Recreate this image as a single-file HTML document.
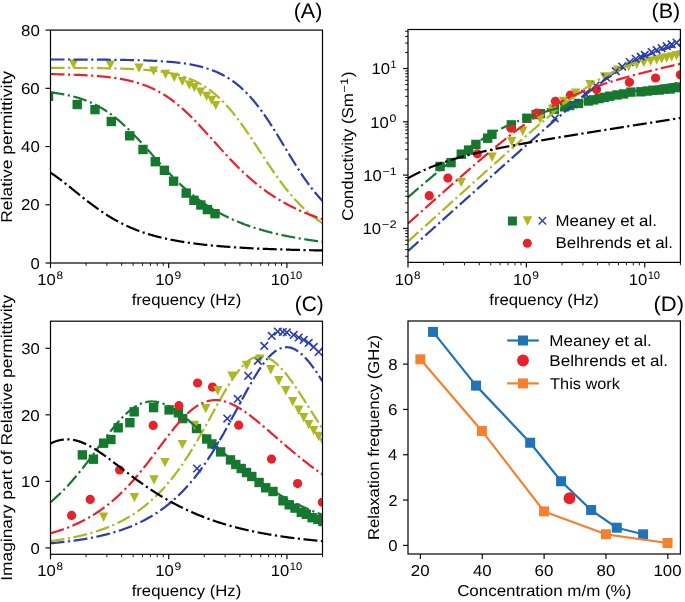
<!DOCTYPE html>
<html><head><meta charset="utf-8"><style>
html,body{margin:0;padding:0;background:#fff;}
svg{display:block;will-change:transform;}
text{font-family:"Liberation Sans",sans-serif;text-rendering:geometricPrecision;}
</style></head><body>
<svg width="685" height="602" viewBox="0 0 685 602">
<rect width="685" height="602" fill="#fff"/>
<clipPath id="clipA"><rect x="50.5" y="30.1" width="272.0" height="232.9"/></clipPath>
<clipPath id="clipB"><rect x="408.0" y="29.5" width="272.4" height="232.89999999999998"/></clipPath>
<clipPath id="clipC"><rect x="50.5" y="321.2" width="272.0" height="233.09999999999997"/></clipPath>
<clipPath id="clipD"><rect x="408.0" y="321.0" width="272.4" height="233.0"/></clipPath>
<g clip-path="url(#clipA)">
<rect x="43.80" y="91.60" width="9.4" height="9.4" fill="#16782f"/>
<rect x="72.50" y="99.80" width="9.4" height="9.4" fill="#16782f"/>
<rect x="90.30" y="104.90" width="9.4" height="9.4" fill="#16782f"/>
<rect x="106.60" y="116.80" width="9.4" height="9.4" fill="#16782f"/>
<rect x="125.00" y="131.10" width="9.4" height="9.4" fill="#16782f"/>
<rect x="138.30" y="144.80" width="9.4" height="9.4" fill="#16782f"/>
<rect x="150.60" y="157.00" width="9.4" height="9.4" fill="#16782f"/>
<rect x="159.70" y="165.60" width="9.4" height="9.4" fill="#16782f"/>
<rect x="168.90" y="176.50" width="9.4" height="9.4" fill="#16782f"/>
<rect x="181.50" y="188.40" width="9.4" height="9.4" fill="#16782f"/>
<rect x="189.20" y="195.60" width="9.4" height="9.4" fill="#16782f"/>
<rect x="196.20" y="200.30" width="9.4" height="9.4" fill="#16782f"/>
<rect x="202.70" y="204.90" width="9.4" height="9.4" fill="#16782f"/>
<rect x="210.30" y="209.00" width="9.4" height="9.4" fill="#16782f"/>
<path d="M68.90,59.50 L78.10,59.50 L73.50,68.70 Z" fill="#acb722"/>
<path d="M105.70,60.50 L114.90,60.50 L110.30,69.70 Z" fill="#acb722"/>
<path d="M134.40,63.50 L143.60,63.50 L139.00,72.70 Z" fill="#acb722"/>
<path d="M149.00,66.40 L158.20,66.40 L153.60,75.60 Z" fill="#acb722"/>
<path d="M161.00,69.70 L170.20,69.70 L165.60,78.90 Z" fill="#acb722"/>
<path d="M169.70,72.70 L178.90,72.70 L174.30,81.90 Z" fill="#acb722"/>
<path d="M177.80,76.90 L187.00,76.90 L182.40,86.10 Z" fill="#acb722"/>
<path d="M184.70,80.40 L193.90,80.40 L189.30,89.60 Z" fill="#acb722"/>
<path d="M189.80,83.10 L199.00,83.10 L194.40,92.30 Z" fill="#acb722"/>
<path d="M195.90,87.60 L205.10,87.60 L200.50,96.80 Z" fill="#acb722"/>
<path d="M202.00,91.70 L211.20,91.70 L206.60,100.90 Z" fill="#acb722"/>
<path d="M207.10,95.70 L216.30,95.70 L211.70,104.90 Z" fill="#acb722"/>
<path d="M211.20,100.90 L220.40,100.90 L215.80,110.10 Z" fill="#acb722"/>
<path d="M50.50,59.47 L51.18,59.48 L51.86,59.48 L52.55,59.48 L53.23,59.48 L53.91,59.48 L54.59,59.48 L55.27,59.48 L55.95,59.48 L56.64,59.48 L57.32,59.49 L58.00,59.49 L58.68,59.49 L59.36,59.49 L60.04,59.49 L60.73,59.49 L61.41,59.49 L62.09,59.50 L62.77,59.50 L63.45,59.50 L64.13,59.50 L64.82,59.50 L65.50,59.50 L66.18,59.50 L66.86,59.51 L67.54,59.51 L68.22,59.51 L68.91,59.51 L69.59,59.51 L70.27,59.52 L70.95,59.52 L71.63,59.52 L72.31,59.52 L73.00,59.52 L73.68,59.53 L74.36,59.53 L75.04,59.53 L75.72,59.53 L76.40,59.53 L77.09,59.54 L77.77,59.54 L78.45,59.54 L79.13,59.54 L79.81,59.55 L80.49,59.55 L81.18,59.55 L81.86,59.55 L82.54,59.56 L83.22,59.56 L83.90,59.56 L84.59,59.57 L85.27,59.57 L85.95,59.57 L86.63,59.58 L87.31,59.58 L87.99,59.58 L88.68,59.59 L89.36,59.59 L90.04,59.59 L90.72,59.60 L91.40,59.60 L92.08,59.60 L92.77,59.61 L93.45,59.61 L94.13,59.62 L94.81,59.62 L95.49,59.62 L96.17,59.63 L96.86,59.63 L97.54,59.64 L98.22,59.64 L98.90,59.65 L99.58,59.65 L100.26,59.66 L100.95,59.66 L101.63,59.67 L102.31,59.67 L102.99,59.68 L103.67,59.68 L104.35,59.69 L105.04,59.69 L105.72,59.70 L106.40,59.71 L107.08,59.71 L107.76,59.72 L108.44,59.73 L109.13,59.73 L109.81,59.74 L110.49,59.75 L111.17,59.75 L111.85,59.76 L112.54,59.77 L113.22,59.78 L113.90,59.78 L114.58,59.79 L115.26,59.80 L115.94,59.81 L116.63,59.82 L117.31,59.83 L117.99,59.84 L118.67,59.84 L119.35,59.85 L120.03,59.86 L120.72,59.87 L121.40,59.88 L122.08,59.89 L122.76,59.91 L123.44,59.92 L124.12,59.93 L124.81,59.94 L125.49,59.95 L126.17,59.96 L126.85,59.98 L127.53,59.99 L128.21,60.00 L128.90,60.01 L129.58,60.03 L130.26,60.04 L130.94,60.06 L131.62,60.07 L132.30,60.09 L132.99,60.10 L133.67,60.12 L134.35,60.13 L135.03,60.15 L135.71,60.17 L136.39,60.18 L137.08,60.20 L137.76,60.22 L138.44,60.24 L139.12,60.26 L139.80,60.28 L140.48,60.30 L141.17,60.32 L141.85,60.34 L142.53,60.36 L143.21,60.38 L143.89,60.41 L144.58,60.43 L145.26,60.45 L145.94,60.48 L146.62,60.50 L147.30,60.53 L147.98,60.55 L148.67,60.58 L149.35,60.61 L150.03,60.64 L150.71,60.66 L151.39,60.69 L152.07,60.72 L152.76,60.76 L153.44,60.79 L154.12,60.82 L154.80,60.85 L155.48,60.89 L156.16,60.92 L156.85,60.96 L157.53,61.00 L158.21,61.03 L158.89,61.07 L159.57,61.11 L160.25,61.15 L160.94,61.19 L161.62,61.24 L162.30,61.28 L162.98,61.33 L163.66,61.37 L164.34,61.42 L165.03,61.47 L165.71,61.52 L166.39,61.57 L167.07,61.62 L167.75,61.67 L168.43,61.73 L169.12,61.78 L169.80,61.84 L170.48,61.90 L171.16,61.96 L171.84,62.02 L172.53,62.08 L173.21,62.15 L173.89,62.21 L174.57,62.28 L175.25,62.35 L175.93,62.42 L176.62,62.50 L177.30,62.57 L177.98,62.65 L178.66,62.73 L179.34,62.81 L180.02,62.89 L180.71,62.97 L181.39,63.06 L182.07,63.15 L182.75,63.24 L183.43,63.33 L184.11,63.43 L184.80,63.53 L185.48,63.63 L186.16,63.73 L186.84,63.84 L187.52,63.94 L188.20,64.05 L188.89,64.17 L189.57,64.28 L190.25,64.40 L190.93,64.52 L191.61,64.65 L192.29,64.78 L192.98,64.91 L193.66,65.04 L194.34,65.18 L195.02,65.32 L195.70,65.46 L196.38,65.61 L197.07,65.76 L197.75,65.92 L198.43,66.07 L199.11,66.24 L199.79,66.40 L200.47,66.57 L201.16,66.74 L201.84,66.92 L202.52,67.10 L203.20,67.29 L203.88,67.48 L204.57,67.68 L205.25,67.88 L205.93,68.08 L206.61,68.29 L207.29,68.51 L207.97,68.72 L208.66,68.95 L209.34,69.18 L210.02,69.41 L210.70,69.65 L211.38,69.90 L212.06,70.15 L212.75,70.41 L213.43,70.67 L214.11,70.94 L214.79,71.22 L215.47,71.50 L216.15,71.78 L216.84,72.08 L217.52,72.38 L218.20,72.69 L218.88,73.00 L219.56,73.32 L220.24,73.65 L220.93,73.98 L221.61,74.33 L222.29,74.68 L222.97,75.03 L223.65,75.40 L224.33,75.77 L225.02,76.15 L225.70,76.54 L226.38,76.94 L227.06,77.34 L227.74,77.76 L228.42,78.18 L229.11,78.61 L229.79,79.05 L230.47,79.50 L231.15,79.96 L231.83,80.42 L232.52,80.90 L233.20,81.38 L233.88,81.88 L234.56,82.38 L235.24,82.90 L235.92,83.42 L236.61,83.96 L237.29,84.50 L237.97,85.05 L238.65,85.62 L239.33,86.19 L240.01,86.78 L240.70,87.38 L241.38,87.98 L242.06,88.60 L242.74,89.23 L243.42,89.87 L244.10,90.51 L244.79,91.18 L245.47,91.85 L246.15,92.53 L246.83,93.22 L247.51,93.93 L248.19,94.64 L248.88,95.37 L249.56,96.11 L250.24,96.86 L250.92,97.62 L251.60,98.39 L252.28,99.18 L252.97,99.97 L253.65,100.78 L254.33,101.59 L255.01,102.42 L255.69,103.26 L256.37,104.11 L257.06,104.97 L257.74,105.84 L258.42,106.73 L259.10,107.62 L259.78,108.52 L260.46,109.44 L261.15,110.36 L261.83,111.30 L262.51,112.24 L263.19,113.20 L263.87,114.16 L264.56,115.13 L265.24,116.12 L265.92,117.11 L266.60,118.11 L267.28,119.12 L267.96,120.14 L268.65,121.16 L269.33,122.20 L270.01,123.24 L270.69,124.29 L271.37,125.34 L272.05,126.41 L272.74,127.47 L273.42,128.55 L274.10,129.63 L274.78,130.72 L275.46,131.81 L276.14,132.91 L276.83,134.01 L277.51,135.12 L278.19,136.23 L278.87,137.35 L279.55,138.46 L280.23,139.58 L280.92,140.71 L281.60,141.83 L282.28,142.96 L282.96,144.09 L283.64,145.22 L284.32,146.35 L285.01,147.48 L285.69,148.61 L286.37,149.74 L287.05,150.87 L287.73,152.00 L288.41,153.13 L289.10,154.25 L289.78,155.37 L290.46,156.49 L291.14,157.61 L291.82,158.72 L292.51,159.83 L293.19,160.94 L293.87,162.04 L294.55,163.13 L295.23,164.22 L295.91,165.31 L296.60,166.39 L297.28,167.46 L297.96,168.53 L298.64,169.59 L299.32,170.64 L300.00,171.69 L300.69,172.73 L301.37,173.76 L302.05,174.78 L302.73,175.80 L303.41,176.80 L304.09,177.80 L304.78,178.79 L305.46,179.77 L306.14,180.74 L306.82,181.70 L307.50,182.65 L308.18,183.59 L308.87,184.52 L309.55,185.44 L310.23,186.35 L310.91,187.25 L311.59,188.14 L312.27,189.02 L312.96,189.89 L313.64,190.74 L314.32,191.59 L315.00,192.43 L315.68,193.25 L316.36,194.06 L317.05,194.86 L317.73,195.65 L318.41,196.43 L319.09,197.20 L319.77,197.96 L320.45,198.70 L321.14,199.44 L321.82,200.16 L322.50,200.87" stroke="#2a3ea8" stroke-width="2.2" fill="none" stroke-dasharray="14.0 3.5 2.2 3.5"/>
<path d="M50.50,67.88 L51.18,67.88 L51.86,67.88 L52.55,67.88 L53.23,67.88 L53.91,67.88 L54.59,67.88 L55.27,67.89 L55.95,67.89 L56.64,67.89 L57.32,67.89 L58.00,67.89 L58.68,67.90 L59.36,67.90 L60.04,67.90 L60.73,67.90 L61.41,67.90 L62.09,67.91 L62.77,67.91 L63.45,67.91 L64.13,67.91 L64.82,67.92 L65.50,67.92 L66.18,67.92 L66.86,67.92 L67.54,67.93 L68.22,67.93 L68.91,67.93 L69.59,67.93 L70.27,67.94 L70.95,67.94 L71.63,67.94 L72.31,67.95 L73.00,67.95 L73.68,67.95 L74.36,67.96 L75.04,67.96 L75.72,67.96 L76.40,67.97 L77.09,67.97 L77.77,67.98 L78.45,67.98 L79.13,67.98 L79.81,67.99 L80.49,67.99 L81.18,68.00 L81.86,68.00 L82.54,68.01 L83.22,68.01 L83.90,68.02 L84.59,68.02 L85.27,68.03 L85.95,68.03 L86.63,68.04 L87.31,68.04 L87.99,68.05 L88.68,68.06 L89.36,68.06 L90.04,68.07 L90.72,68.08 L91.40,68.08 L92.08,68.09 L92.77,68.10 L93.45,68.10 L94.13,68.11 L94.81,68.12 L95.49,68.13 L96.17,68.13 L96.86,68.14 L97.54,68.15 L98.22,68.16 L98.90,68.17 L99.58,68.18 L100.26,68.19 L100.95,68.20 L101.63,68.21 L102.31,68.22 L102.99,68.23 L103.67,68.24 L104.35,68.25 L105.04,68.26 L105.72,68.27 L106.40,68.29 L107.08,68.30 L107.76,68.31 L108.44,68.33 L109.13,68.34 L109.81,68.35 L110.49,68.37 L111.17,68.38 L111.85,68.40 L112.54,68.41 L113.22,68.43 L113.90,68.44 L114.58,68.46 L115.26,68.48 L115.94,68.49 L116.63,68.51 L117.31,68.53 L117.99,68.55 L118.67,68.57 L119.35,68.59 L120.03,68.61 L120.72,68.63 L121.40,68.65 L122.08,68.67 L122.76,68.70 L123.44,68.72 L124.12,68.74 L124.81,68.77 L125.49,68.79 L126.17,68.82 L126.85,68.85 L127.53,68.87 L128.21,68.90 L128.90,68.93 L129.58,68.96 L130.26,68.99 L130.94,69.02 L131.62,69.06 L132.30,69.09 L132.99,69.12 L133.67,69.16 L134.35,69.19 L135.03,69.23 L135.71,69.27 L136.39,69.30 L137.08,69.34 L137.76,69.38 L138.44,69.43 L139.12,69.47 L139.80,69.51 L140.48,69.56 L141.17,69.60 L141.85,69.65 L142.53,69.70 L143.21,69.75 L143.89,69.80 L144.58,69.85 L145.26,69.91 L145.94,69.96 L146.62,70.02 L147.30,70.08 L147.98,70.14 L148.67,70.20 L149.35,70.26 L150.03,70.32 L150.71,70.39 L151.39,70.46 L152.07,70.53 L152.76,70.60 L153.44,70.67 L154.12,70.75 L154.80,70.83 L155.48,70.90 L156.16,70.99 L156.85,71.07 L157.53,71.15 L158.21,71.24 L158.89,71.33 L159.57,71.42 L160.25,71.52 L160.94,71.61 L161.62,71.71 L162.30,71.82 L162.98,71.92 L163.66,72.03 L164.34,72.14 L165.03,72.25 L165.71,72.37 L166.39,72.48 L167.07,72.61 L167.75,72.73 L168.43,72.86 L169.12,72.99 L169.80,73.12 L170.48,73.26 L171.16,73.40 L171.84,73.54 L172.53,73.69 L173.21,73.84 L173.89,74.00 L174.57,74.16 L175.25,74.32 L175.93,74.49 L176.62,74.66 L177.30,74.83 L177.98,75.01 L178.66,75.20 L179.34,75.39 L180.02,75.58 L180.71,75.78 L181.39,75.98 L182.07,76.18 L182.75,76.40 L183.43,76.61 L184.11,76.84 L184.80,77.06 L185.48,77.30 L186.16,77.53 L186.84,77.78 L187.52,78.03 L188.20,78.28 L188.89,78.54 L189.57,78.81 L190.25,79.08 L190.93,79.36 L191.61,79.65 L192.29,79.94 L192.98,80.24 L193.66,80.54 L194.34,80.86 L195.02,81.18 L195.70,81.50 L196.38,81.84 L197.07,82.18 L197.75,82.52 L198.43,82.88 L199.11,83.24 L199.79,83.61 L200.47,83.99 L201.16,84.38 L201.84,84.77 L202.52,85.18 L203.20,85.59 L203.88,86.01 L204.57,86.43 L205.25,86.87 L205.93,87.32 L206.61,87.77 L207.29,88.23 L207.97,88.71 L208.66,89.19 L209.34,89.68 L210.02,90.18 L210.70,90.69 L211.38,91.21 L212.06,91.73 L212.75,92.27 L213.43,92.82 L214.11,93.38 L214.79,93.94 L215.47,94.52 L216.15,95.11 L216.84,95.71 L217.52,96.31 L218.20,96.93 L218.88,97.56 L219.56,98.20 L220.24,98.85 L220.93,99.51 L221.61,100.17 L222.29,100.85 L222.97,101.54 L223.65,102.24 L224.33,102.95 L225.02,103.67 L225.70,104.40 L226.38,105.14 L227.06,105.90 L227.74,106.66 L228.42,107.43 L229.11,108.21 L229.79,109.00 L230.47,109.80 L231.15,110.61 L231.83,111.43 L232.52,112.26 L233.20,113.10 L233.88,113.95 L234.56,114.81 L235.24,115.68 L235.92,116.55 L236.61,117.44 L237.29,118.33 L237.97,119.23 L238.65,120.14 L239.33,121.06 L240.01,121.99 L240.70,122.92 L241.38,123.86 L242.06,124.81 L242.74,125.77 L243.42,126.73 L244.10,127.70 L244.79,128.67 L245.47,129.65 L246.15,130.64 L246.83,131.63 L247.51,132.63 L248.19,133.63 L248.88,134.64 L249.56,135.65 L250.24,136.67 L250.92,137.69 L251.60,138.71 L252.28,139.74 L252.97,140.77 L253.65,141.81 L254.33,142.84 L255.01,143.88 L255.69,144.92 L256.37,145.96 L257.06,147.00 L257.74,148.05 L258.42,149.09 L259.10,150.13 L259.78,151.18 L260.46,152.22 L261.15,153.27 L261.83,154.31 L262.51,155.35 L263.19,156.39 L263.87,157.43 L264.56,158.47 L265.24,159.50 L265.92,160.53 L266.60,161.56 L267.28,162.59 L267.96,163.61 L268.65,164.63 L269.33,165.65 L270.01,166.66 L270.69,167.66 L271.37,168.67 L272.05,169.67 L272.74,170.66 L273.42,171.65 L274.10,172.63 L274.78,173.61 L275.46,174.58 L276.14,175.54 L276.83,176.50 L277.51,177.45 L278.19,178.40 L278.87,179.34 L279.55,180.27 L280.23,181.20 L280.92,182.12 L281.60,183.03 L282.28,183.94 L282.96,184.84 L283.64,185.73 L284.32,186.61 L285.01,187.48 L285.69,188.35 L286.37,189.21 L287.05,190.06 L287.73,190.91 L288.41,191.74 L289.10,192.57 L289.78,193.39 L290.46,194.20 L291.14,195.00 L291.82,195.80 L292.51,196.58 L293.19,197.36 L293.87,198.13 L294.55,198.89 L295.23,199.65 L295.91,200.39 L296.60,201.13 L297.28,201.86 L297.96,202.58 L298.64,203.29 L299.32,203.99 L300.00,204.68 L300.69,205.37 L301.37,206.05 L302.05,206.72 L302.73,207.38 L303.41,208.04 L304.09,208.68 L304.78,209.32 L305.46,209.95 L306.14,210.57 L306.82,211.19 L307.50,211.79 L308.18,212.39 L308.87,212.98 L309.55,213.56 L310.23,214.14 L310.91,214.71 L311.59,215.27 L312.27,215.82 L312.96,216.37 L313.64,216.90 L314.32,217.44 L315.00,217.96 L315.68,218.48 L316.36,218.99 L317.05,219.49 L317.73,219.99 L318.41,220.48 L319.09,220.96 L319.77,221.43 L320.45,221.90 L321.14,222.37 L321.82,222.82 L322.50,223.27" stroke="#acb722" stroke-width="2.2" fill="none" stroke-dasharray="14.0 3.5 2.2 3.5"/>
<path d="M50.50,74.12 L51.18,74.14 L51.86,74.15 L52.55,74.16 L53.23,74.17 L53.91,74.19 L54.59,74.20 L55.27,74.21 L55.95,74.23 L56.64,74.24 L57.32,74.26 L58.00,74.27 L58.68,74.28 L59.36,74.30 L60.04,74.32 L60.73,74.33 L61.41,74.35 L62.09,74.37 L62.77,74.38 L63.45,74.40 L64.13,74.42 L64.82,74.44 L65.50,74.46 L66.18,74.47 L66.86,74.49 L67.54,74.51 L68.22,74.53 L68.91,74.56 L69.59,74.58 L70.27,74.60 L70.95,74.62 L71.63,74.65 L72.31,74.67 L73.00,74.69 L73.68,74.72 L74.36,74.74 L75.04,74.77 L75.72,74.80 L76.40,74.82 L77.09,74.85 L77.77,74.88 L78.45,74.91 L79.13,74.94 L79.81,74.97 L80.49,75.00 L81.18,75.03 L81.86,75.06 L82.54,75.10 L83.22,75.13 L83.90,75.16 L84.59,75.20 L85.27,75.24 L85.95,75.27 L86.63,75.31 L87.31,75.35 L87.99,75.39 L88.68,75.43 L89.36,75.47 L90.04,75.52 L90.72,75.56 L91.40,75.60 L92.08,75.65 L92.77,75.70 L93.45,75.75 L94.13,75.79 L94.81,75.84 L95.49,75.90 L96.17,75.95 L96.86,76.00 L97.54,76.06 L98.22,76.11 L98.90,76.17 L99.58,76.23 L100.26,76.29 L100.95,76.35 L101.63,76.42 L102.31,76.48 L102.99,76.55 L103.67,76.61 L104.35,76.68 L105.04,76.75 L105.72,76.83 L106.40,76.90 L107.08,76.98 L107.76,77.06 L108.44,77.13 L109.13,77.22 L109.81,77.30 L110.49,77.38 L111.17,77.47 L111.85,77.56 L112.54,77.65 L113.22,77.74 L113.90,77.84 L114.58,77.94 L115.26,78.04 L115.94,78.14 L116.63,78.24 L117.31,78.35 L117.99,78.46 L118.67,78.57 L119.35,78.68 L120.03,78.80 L120.72,78.92 L121.40,79.04 L122.08,79.17 L122.76,79.29 L123.44,79.42 L124.12,79.56 L124.81,79.69 L125.49,79.83 L126.17,79.97 L126.85,80.12 L127.53,80.27 L128.21,80.42 L128.90,80.57 L129.58,80.73 L130.26,80.89 L130.94,81.06 L131.62,81.23 L132.30,81.40 L132.99,81.58 L133.67,81.76 L134.35,81.94 L135.03,82.13 L135.71,82.32 L136.39,82.52 L137.08,82.72 L137.76,82.92 L138.44,83.13 L139.12,83.34 L139.80,83.56 L140.48,83.78 L141.17,84.01 L141.85,84.24 L142.53,84.48 L143.21,84.72 L143.89,84.96 L144.58,85.21 L145.26,85.47 L145.94,85.73 L146.62,85.99 L147.30,86.26 L147.98,86.54 L148.67,86.82 L149.35,87.11 L150.03,87.40 L150.71,87.70 L151.39,88.00 L152.07,88.31 L152.76,88.62 L153.44,88.94 L154.12,89.27 L154.80,89.60 L155.48,89.94 L156.16,90.29 L156.85,90.64 L157.53,90.99 L158.21,91.36 L158.89,91.73 L159.57,92.10 L160.25,92.49 L160.94,92.87 L161.62,93.27 L162.30,93.67 L162.98,94.08 L163.66,94.50 L164.34,94.92 L165.03,95.35 L165.71,95.78 L166.39,96.22 L167.07,96.67 L167.75,97.13 L168.43,97.59 L169.12,98.06 L169.80,98.54 L170.48,99.02 L171.16,99.51 L171.84,100.01 L172.53,100.51 L173.21,101.02 L173.89,101.54 L174.57,102.06 L175.25,102.59 L175.93,103.13 L176.62,103.67 L177.30,104.23 L177.98,104.78 L178.66,105.35 L179.34,105.92 L180.02,106.50 L180.71,107.08 L181.39,107.67 L182.07,108.27 L182.75,108.87 L183.43,109.48 L184.11,110.10 L184.80,110.72 L185.48,111.35 L186.16,111.99 L186.84,112.63 L187.52,113.27 L188.20,113.92 L188.89,114.58 L189.57,115.24 L190.25,115.91 L190.93,116.58 L191.61,117.26 L192.29,117.94 L192.98,118.63 L193.66,119.33 L194.34,120.02 L195.02,120.72 L195.70,121.43 L196.38,122.14 L197.07,122.85 L197.75,123.57 L198.43,124.29 L199.11,125.02 L199.79,125.75 L200.47,126.48 L201.16,127.21 L201.84,127.95 L202.52,128.69 L203.20,129.44 L203.88,130.18 L204.57,130.93 L205.25,131.68 L205.93,132.43 L206.61,133.19 L207.29,133.94 L207.97,134.70 L208.66,135.46 L209.34,136.22 L210.02,136.98 L210.70,137.74 L211.38,138.50 L212.06,139.26 L212.75,140.02 L213.43,140.78 L214.11,141.55 L214.79,142.31 L215.47,143.07 L216.15,143.83 L216.84,144.59 L217.52,145.35 L218.20,146.11 L218.88,146.87 L219.56,147.62 L220.24,148.38 L220.93,149.13 L221.61,149.88 L222.29,150.63 L222.97,151.38 L223.65,152.13 L224.33,152.87 L225.02,153.61 L225.70,154.35 L226.38,155.09 L227.06,155.82 L227.74,156.55 L228.42,157.28 L229.11,158.01 L229.79,158.73 L230.47,159.45 L231.15,160.16 L231.83,160.88 L232.52,161.58 L233.20,162.29 L233.88,162.99 L234.56,163.69 L235.24,164.38 L235.92,165.07 L236.61,165.76 L237.29,166.44 L237.97,167.12 L238.65,167.80 L239.33,168.47 L240.01,169.13 L240.70,169.79 L241.38,170.45 L242.06,171.10 L242.74,171.75 L243.42,172.40 L244.10,173.04 L244.79,173.67 L245.47,174.30 L246.15,174.93 L246.83,175.55 L247.51,176.17 L248.19,176.78 L248.88,177.39 L249.56,177.99 L250.24,178.59 L250.92,179.19 L251.60,179.78 L252.28,180.36 L252.97,180.94 L253.65,181.52 L254.33,182.09 L255.01,182.65 L255.69,183.22 L256.37,183.77 L257.06,184.32 L257.74,184.87 L258.42,185.41 L259.10,185.95 L259.78,186.49 L260.46,187.02 L261.15,187.54 L261.83,188.06 L262.51,188.57 L263.19,189.08 L263.87,189.59 L264.56,190.09 L265.24,190.59 L265.92,191.08 L266.60,191.57 L267.28,192.05 L267.96,192.53 L268.65,193.01 L269.33,193.48 L270.01,193.94 L270.69,194.41 L271.37,194.86 L272.05,195.32 L272.74,195.77 L273.42,196.21 L274.10,196.65 L274.78,197.09 L275.46,197.52 L276.14,197.95 L276.83,198.37 L277.51,198.79 L278.19,199.21 L278.87,199.62 L279.55,200.03 L280.23,200.44 L280.92,200.84 L281.60,201.23 L282.28,201.63 L282.96,202.02 L283.64,202.40 L284.32,202.78 L285.01,203.16 L285.69,203.54 L286.37,203.91 L287.05,204.28 L287.73,204.64 L288.41,205.00 L289.10,205.36 L289.78,205.71 L290.46,206.06 L291.14,206.41 L291.82,206.75 L292.51,207.09 L293.19,207.43 L293.87,207.76 L294.55,208.09 L295.23,208.42 L295.91,208.74 L296.60,209.06 L297.28,209.38 L297.96,209.69 L298.64,210.01 L299.32,210.32 L300.00,210.62 L300.69,210.92 L301.37,211.22 L302.05,211.52 L302.73,211.81 L303.41,212.11 L304.09,212.39 L304.78,212.68 L305.46,212.96 L306.14,213.24 L306.82,213.52 L307.50,213.80 L308.18,214.07 L308.87,214.34 L309.55,214.60 L310.23,214.87 L310.91,215.13 L311.59,215.39 L312.27,215.65 L312.96,215.90 L313.64,216.15 L314.32,216.40 L315.00,216.65 L315.68,216.90 L316.36,217.14 L317.05,217.38 L317.73,217.62 L318.41,217.85 L319.09,218.09 L319.77,218.32 L320.45,218.55 L321.14,218.78 L321.82,219.00 L322.50,219.22" stroke="#e8222b" stroke-width="2.2" fill="none" stroke-dasharray="14.0 3.5 2.2 3.5"/>
<path d="M50.50,92.36 L51.18,92.45 L51.86,92.53 L52.55,92.62 L53.23,92.71 L53.91,92.80 L54.59,92.89 L55.27,92.99 L55.95,93.09 L56.64,93.19 L57.32,93.29 L58.00,93.39 L58.68,93.50 L59.36,93.61 L60.04,93.72 L60.73,93.84 L61.41,93.96 L62.09,94.08 L62.77,94.20 L63.45,94.33 L64.13,94.46 L64.82,94.59 L65.50,94.72 L66.18,94.86 L66.86,95.00 L67.54,95.15 L68.22,95.30 L68.91,95.45 L69.59,95.60 L70.27,95.76 L70.95,95.92 L71.63,96.09 L72.31,96.26 L73.00,96.43 L73.68,96.61 L74.36,96.79 L75.04,96.98 L75.72,97.16 L76.40,97.36 L77.09,97.56 L77.77,97.76 L78.45,97.96 L79.13,98.17 L79.81,98.39 L80.49,98.61 L81.18,98.83 L81.86,99.06 L82.54,99.30 L83.22,99.54 L83.90,99.78 L84.59,100.03 L85.27,100.28 L85.95,100.54 L86.63,100.81 L87.31,101.08 L87.99,101.35 L88.68,101.63 L89.36,101.92 L90.04,102.21 L90.72,102.51 L91.40,102.82 L92.08,103.13 L92.77,103.44 L93.45,103.76 L94.13,104.09 L94.81,104.43 L95.49,104.77 L96.17,105.11 L96.86,105.47 L97.54,105.83 L98.22,106.19 L98.90,106.56 L99.58,106.94 L100.26,107.33 L100.95,107.72 L101.63,108.12 L102.31,108.53 L102.99,108.94 L103.67,109.36 L104.35,109.79 L105.04,110.22 L105.72,110.66 L106.40,111.11 L107.08,111.56 L107.76,112.02 L108.44,112.49 L109.13,112.97 L109.81,113.45 L110.49,113.94 L111.17,114.44 L111.85,114.94 L112.54,115.45 L113.22,115.97 L113.90,116.50 L114.58,117.03 L115.26,117.57 L115.94,118.11 L116.63,118.67 L117.31,119.23 L117.99,119.79 L118.67,120.37 L119.35,120.95 L120.03,121.54 L120.72,122.13 L121.40,122.73 L122.08,123.34 L122.76,123.95 L123.44,124.57 L124.12,125.20 L124.81,125.83 L125.49,126.47 L126.17,127.11 L126.85,127.76 L127.53,128.42 L128.21,129.08 L128.90,129.74 L129.58,130.42 L130.26,131.09 L130.94,131.78 L131.62,132.46 L132.30,133.16 L132.99,133.85 L133.67,134.55 L134.35,135.26 L135.03,135.97 L135.71,136.69 L136.39,137.40 L137.08,138.13 L137.76,138.85 L138.44,139.58 L139.12,140.31 L139.80,141.05 L140.48,141.79 L141.17,142.53 L141.85,143.27 L142.53,144.02 L143.21,144.77 L143.89,145.52 L144.58,146.27 L145.26,147.02 L145.94,147.78 L146.62,148.53 L147.30,149.29 L147.98,150.05 L148.67,150.81 L149.35,151.57 L150.03,152.33 L150.71,153.09 L151.39,153.85 L152.07,154.61 L152.76,155.37 L153.44,156.13 L154.12,156.89 L154.80,157.65 L155.48,158.41 L156.16,159.16 L156.85,159.92 L157.53,160.67 L158.21,161.43 L158.89,162.18 L159.57,162.93 L160.25,163.67 L160.94,164.42 L161.62,165.16 L162.30,165.90 L162.98,166.64 L163.66,167.37 L164.34,168.10 L165.03,168.83 L165.71,169.56 L166.39,170.28 L167.07,171.00 L167.75,171.72 L168.43,172.43 L169.12,173.14 L169.80,173.84 L170.48,174.55 L171.16,175.24 L171.84,175.94 L172.53,176.63 L173.21,177.31 L173.89,178.00 L174.57,178.67 L175.25,179.35 L175.93,180.02 L176.62,180.68 L177.30,181.34 L177.98,182.00 L178.66,182.65 L179.34,183.29 L180.02,183.93 L180.71,184.57 L181.39,185.20 L182.07,185.83 L182.75,186.45 L183.43,187.07 L184.11,187.69 L184.80,188.29 L185.48,188.90 L186.16,189.50 L186.84,190.09 L187.52,190.68 L188.20,191.26 L188.89,191.84 L189.57,192.42 L190.25,192.98 L190.93,193.55 L191.61,194.11 L192.29,194.66 L192.98,195.21 L193.66,195.76 L194.34,196.29 L195.02,196.83 L195.70,197.36 L196.38,197.88 L197.07,198.40 L197.75,198.92 L198.43,199.43 L199.11,199.93 L199.79,200.43 L200.47,200.93 L201.16,201.42 L201.84,201.91 L202.52,202.39 L203.20,202.87 L203.88,203.34 L204.57,203.81 L205.25,204.27 L205.93,204.73 L206.61,205.18 L207.29,205.63 L207.97,206.08 L208.66,206.52 L209.34,206.95 L210.02,207.38 L210.70,207.81 L211.38,208.23 L212.06,208.65 L212.75,209.07 L213.43,209.48 L214.11,209.88 L214.79,210.29 L215.47,210.68 L216.15,211.08 L216.84,211.47 L217.52,211.85 L218.20,212.23 L218.88,212.61 L219.56,212.99 L220.24,213.36 L220.93,213.72 L221.61,214.09 L222.29,214.44 L222.97,214.80 L223.65,215.15 L224.33,215.50 L225.02,215.84 L225.70,216.18 L226.38,216.52 L227.06,216.85 L227.74,217.18 L228.42,217.51 L229.11,217.83 L229.79,218.15 L230.47,218.47 L231.15,218.78 L231.83,219.09 L232.52,219.40 L233.20,219.71 L233.88,220.01 L234.56,220.30 L235.24,220.60 L235.92,220.89 L236.61,221.18 L237.29,221.46 L237.97,221.75 L238.65,222.03 L239.33,222.30 L240.01,222.58 L240.70,222.85 L241.38,223.11 L242.06,223.38 L242.74,223.64 L243.42,223.90 L244.10,224.16 L244.79,224.41 L245.47,224.67 L246.15,224.92 L246.83,225.16 L247.51,225.41 L248.19,225.65 L248.88,225.89 L249.56,226.13 L250.24,226.36 L250.92,226.59 L251.60,226.82 L252.28,227.05 L252.97,227.28 L253.65,227.50 L254.33,227.72 L255.01,227.94 L255.69,228.16 L256.37,228.37 L257.06,228.58 L257.74,228.79 L258.42,229.00 L259.10,229.21 L259.78,229.41 L260.46,229.61 L261.15,229.81 L261.83,230.01 L262.51,230.20 L263.19,230.40 L263.87,230.59 L264.56,230.78 L265.24,230.97 L265.92,231.15 L266.60,231.34 L267.28,231.52 L267.96,231.70 L268.65,231.88 L269.33,232.06 L270.01,232.23 L270.69,232.41 L271.37,232.58 L272.05,232.75 L272.74,232.92 L273.42,233.09 L274.10,233.25 L274.78,233.41 L275.46,233.58 L276.14,233.74 L276.83,233.90 L277.51,234.05 L278.19,234.21 L278.87,234.37 L279.55,234.52 L280.23,234.67 L280.92,234.82 L281.60,234.97 L282.28,235.12 L282.96,235.26 L283.64,235.41 L284.32,235.55 L285.01,235.69 L285.69,235.83 L286.37,235.97 L287.05,236.11 L287.73,236.25 L288.41,236.38 L289.10,236.52 L289.78,236.65 L290.46,236.78 L291.14,236.91 L291.82,237.04 L292.51,237.17 L293.19,237.29 L293.87,237.42 L294.55,237.54 L295.23,237.67 L295.91,237.79 L296.60,237.91 L297.28,238.03 L297.96,238.15 L298.64,238.27 L299.32,238.38 L300.00,238.50 L300.69,238.61 L301.37,238.73 L302.05,238.84 L302.73,238.95 L303.41,239.06 L304.09,239.17 L304.78,239.28 L305.46,239.38 L306.14,239.49 L306.82,239.60 L307.50,239.70 L308.18,239.80 L308.87,239.91 L309.55,240.01 L310.23,240.11 L310.91,240.21 L311.59,240.31 L312.27,240.41 L312.96,240.50 L313.64,240.60 L314.32,240.69 L315.00,240.79 L315.68,240.88 L316.36,240.97 L317.05,241.07 L317.73,241.16 L318.41,241.25 L319.09,241.34 L319.77,241.43 L320.45,241.51 L321.14,241.60 L321.82,241.69 L322.50,241.77" stroke="#16782f" stroke-width="2.2" fill="none" stroke-dasharray="14.0 3.5 2.2 3.5"/>
<path d="M50.50,172.63 L51.18,173.09 L51.86,173.55 L52.55,174.02 L53.23,174.49 L53.91,174.96 L54.59,175.44 L55.27,175.93 L55.95,176.41 L56.64,176.90 L57.32,177.40 L58.00,177.90 L58.68,178.40 L59.36,178.91 L60.04,179.42 L60.73,179.93 L61.41,180.45 L62.09,180.97 L62.77,181.49 L63.45,182.02 L64.13,182.54 L64.82,183.08 L65.50,183.61 L66.18,184.14 L66.86,184.68 L67.54,185.22 L68.22,185.76 L68.91,186.30 L69.59,186.85 L70.27,187.39 L70.95,187.94 L71.63,188.49 L72.31,189.04 L73.00,189.59 L73.68,190.14 L74.36,190.69 L75.04,191.24 L75.72,191.79 L76.40,192.34 L77.09,192.89 L77.77,193.44 L78.45,193.99 L79.13,194.54 L79.81,195.09 L80.49,195.64 L81.18,196.19 L81.86,196.73 L82.54,197.28 L83.22,197.82 L83.90,198.36 L84.59,198.90 L85.27,199.44 L85.95,199.98 L86.63,200.51 L87.31,201.05 L87.99,201.58 L88.68,202.10 L89.36,202.63 L90.04,203.15 L90.72,203.67 L91.40,204.19 L92.08,204.70 L92.77,205.21 L93.45,205.72 L94.13,206.22 L94.81,206.73 L95.49,207.22 L96.17,207.72 L96.86,208.21 L97.54,208.70 L98.22,209.18 L98.90,209.66 L99.58,210.14 L100.26,210.62 L100.95,211.09 L101.63,211.55 L102.31,212.01 L102.99,212.47 L103.67,212.92 L104.35,213.38 L105.04,213.82 L105.72,214.26 L106.40,214.70 L107.08,215.13 L107.76,215.56 L108.44,215.99 L109.13,216.41 L109.81,216.83 L110.49,217.24 L111.17,217.65 L111.85,218.06 L112.54,218.46 L113.22,218.85 L113.90,219.25 L114.58,219.63 L115.26,220.02 L115.94,220.40 L116.63,220.77 L117.31,221.14 L117.99,221.51 L118.67,221.87 L119.35,222.23 L120.03,222.59 L120.72,222.94 L121.40,223.29 L122.08,223.63 L122.76,223.97 L123.44,224.30 L124.12,224.63 L124.81,224.96 L125.49,225.28 L126.17,225.60 L126.85,225.92 L127.53,226.23 L128.21,226.54 L128.90,226.84 L129.58,227.14 L130.26,227.44 L130.94,227.73 L131.62,228.02 L132.30,228.31 L132.99,228.59 L133.67,228.87 L134.35,229.14 L135.03,229.41 L135.71,229.68 L136.39,229.95 L137.08,230.21 L137.76,230.47 L138.44,230.72 L139.12,230.97 L139.80,231.22 L140.48,231.47 L141.17,231.71 L141.85,231.95 L142.53,232.18 L143.21,232.42 L143.89,232.65 L144.58,232.87 L145.26,233.10 L145.94,233.32 L146.62,233.53 L147.30,233.75 L147.98,233.96 L148.67,234.17 L149.35,234.38 L150.03,234.58 L150.71,234.79 L151.39,234.98 L152.07,235.18 L152.76,235.37 L153.44,235.57 L154.12,235.76 L154.80,235.94 L155.48,236.13 L156.16,236.31 L156.85,236.49 L157.53,236.66 L158.21,236.84 L158.89,237.01 L159.57,237.18 L160.25,237.35 L160.94,237.51 L161.62,237.68 L162.30,237.84 L162.98,238.00 L163.66,238.16 L164.34,238.31 L165.03,238.46 L165.71,238.62 L166.39,238.77 L167.07,238.91 L167.75,239.06 L168.43,239.20 L169.12,239.34 L169.80,239.48 L170.48,239.62 L171.16,239.76 L171.84,239.89 L172.53,240.03 L173.21,240.16 L173.89,240.29 L174.57,240.42 L175.25,240.54 L175.93,240.67 L176.62,240.79 L177.30,240.91 L177.98,241.03 L178.66,241.15 L179.34,241.27 L180.02,241.38 L180.71,241.50 L181.39,241.61 L182.07,241.72 L182.75,241.83 L183.43,241.94 L184.11,242.05 L184.80,242.16 L185.48,242.26 L186.16,242.36 L186.84,242.47 L187.52,242.57 L188.20,242.67 L188.89,242.76 L189.57,242.86 L190.25,242.96 L190.93,243.05 L191.61,243.15 L192.29,243.24 L192.98,243.33 L193.66,243.42 L194.34,243.51 L195.02,243.60 L195.70,243.69 L196.38,243.77 L197.07,243.86 L197.75,243.94 L198.43,244.02 L199.11,244.11 L199.79,244.19 L200.47,244.27 L201.16,244.35 L201.84,244.42 L202.52,244.50 L203.20,244.58 L203.88,244.65 L204.57,244.73 L205.25,244.80 L205.93,244.87 L206.61,244.95 L207.29,245.02 L207.97,245.09 L208.66,245.16 L209.34,245.23 L210.02,245.29 L210.70,245.36 L211.38,245.43 L212.06,245.49 L212.75,245.56 L213.43,245.62 L214.11,245.68 L214.79,245.75 L215.47,245.81 L216.15,245.87 L216.84,245.93 L217.52,245.99 L218.20,246.05 L218.88,246.11 L219.56,246.17 L220.24,246.22 L220.93,246.28 L221.61,246.33 L222.29,246.39 L222.97,246.44 L223.65,246.50 L224.33,246.55 L225.02,246.60 L225.70,246.66 L226.38,246.71 L227.06,246.76 L227.74,246.81 L228.42,246.86 L229.11,246.91 L229.79,246.96 L230.47,247.01 L231.15,247.05 L231.83,247.10 L232.52,247.15 L233.20,247.19 L233.88,247.24 L234.56,247.28 L235.24,247.33 L235.92,247.37 L236.61,247.42 L237.29,247.46 L237.97,247.50 L238.65,247.54 L239.33,247.59 L240.01,247.63 L240.70,247.67 L241.38,247.71 L242.06,247.75 L242.74,247.79 L243.42,247.83 L244.10,247.87 L244.79,247.90 L245.47,247.94 L246.15,247.98 L246.83,248.02 L247.51,248.05 L248.19,248.09 L248.88,248.13 L249.56,248.16 L250.24,248.20 L250.92,248.23 L251.60,248.27 L252.28,248.30 L252.97,248.33 L253.65,248.37 L254.33,248.40 L255.01,248.43 L255.69,248.47 L256.37,248.50 L257.06,248.53 L257.74,248.56 L258.42,248.59 L259.10,248.62 L259.78,248.65 L260.46,248.68 L261.15,248.71 L261.83,248.74 L262.51,248.77 L263.19,248.80 L263.87,248.83 L264.56,248.86 L265.24,248.88 L265.92,248.91 L266.60,248.94 L267.28,248.97 L267.96,248.99 L268.65,249.02 L269.33,249.05 L270.01,249.07 L270.69,249.10 L271.37,249.12 L272.05,249.15 L272.74,249.17 L273.42,249.20 L274.10,249.22 L274.78,249.25 L275.46,249.27 L276.14,249.29 L276.83,249.32 L277.51,249.34 L278.19,249.36 L278.87,249.39 L279.55,249.41 L280.23,249.43 L280.92,249.45 L281.60,249.47 L282.28,249.50 L282.96,249.52 L283.64,249.54 L284.32,249.56 L285.01,249.58 L285.69,249.60 L286.37,249.62 L287.05,249.64 L287.73,249.66 L288.41,249.68 L289.10,249.70 L289.78,249.72 L290.46,249.74 L291.14,249.76 L291.82,249.78 L292.51,249.79 L293.19,249.81 L293.87,249.83 L294.55,249.85 L295.23,249.87 L295.91,249.88 L296.60,249.90 L297.28,249.92 L297.96,249.94 L298.64,249.95 L299.32,249.97 L300.00,249.99 L300.69,250.00 L301.37,250.02 L302.05,250.03 L302.73,250.05 L303.41,250.07 L304.09,250.08 L304.78,250.10 L305.46,250.11 L306.14,250.13 L306.82,250.14 L307.50,250.16 L308.18,250.17 L308.87,250.19 L309.55,250.20 L310.23,250.22 L310.91,250.23 L311.59,250.24 L312.27,250.26 L312.96,250.27 L313.64,250.29 L314.32,250.30 L315.00,250.31 L315.68,250.33 L316.36,250.34 L317.05,250.35 L317.73,250.36 L318.41,250.38 L319.09,250.39 L319.77,250.40 L320.45,250.41 L321.14,250.43 L321.82,250.44 L322.50,250.45" stroke="#000000" stroke-width="2.2" fill="none" stroke-dasharray="14.0 3.5 2.2 3.5"/>
</g>
<g clip-path="url(#clipC)">
<rect x="77.70" y="450.20" width="9.4" height="9.4" fill="#16782f"/>
<rect x="88.70" y="454.50" width="9.4" height="9.4" fill="#16782f"/>
<rect x="98.90" y="438.50" width="9.4" height="9.4" fill="#16782f"/>
<rect x="106.20" y="434.80" width="9.4" height="9.4" fill="#16782f"/>
<rect x="113.50" y="423.10" width="9.4" height="9.4" fill="#16782f"/>
<rect x="125.20" y="418.00" width="9.4" height="9.4" fill="#16782f"/>
<rect x="129.50" y="407.10" width="9.4" height="9.4" fill="#16782f"/>
<rect x="148.90" y="402.90" width="9.4" height="9.4" fill="#16782f"/>
<rect x="164.40" y="405.20" width="9.4" height="9.4" fill="#16782f"/>
<rect x="173.70" y="408.10" width="9.4" height="9.4" fill="#16782f"/>
<rect x="177.90" y="413.90" width="9.4" height="9.4" fill="#16782f"/>
<rect x="191.80" y="423.80" width="9.4" height="9.4" fill="#16782f"/>
<rect x="202.00" y="434.30" width="9.4" height="9.4" fill="#16782f"/>
<rect x="207.20" y="439.20" width="9.4" height="9.4" fill="#16782f"/>
<rect x="215.90" y="447.20" width="9.4" height="9.4" fill="#16782f"/>
<rect x="225.80" y="455.20" width="9.4" height="9.4" fill="#16782f"/>
<rect x="231.10" y="459.80" width="9.4" height="9.4" fill="#16782f"/>
<rect x="236.50" y="463.80" width="9.4" height="9.4" fill="#16782f"/>
<rect x="241.80" y="467.80" width="9.4" height="9.4" fill="#16782f"/>
<rect x="247.10" y="471.80" width="9.4" height="9.4" fill="#16782f"/>
<rect x="254.40" y="477.80" width="9.4" height="9.4" fill="#16782f"/>
<rect x="261.00" y="483.10" width="9.4" height="9.4" fill="#16782f"/>
<rect x="268.30" y="486.80" width="9.4" height="9.4" fill="#16782f"/>
<rect x="278.30" y="496.10" width="9.4" height="9.4" fill="#16782f"/>
<rect x="284.50" y="500.10" width="9.4" height="9.4" fill="#16782f"/>
<rect x="290.30" y="503.40" width="9.4" height="9.4" fill="#16782f"/>
<rect x="296.60" y="507.60" width="9.4" height="9.4" fill="#16782f"/>
<rect x="301.60" y="509.60" width="9.4" height="9.4" fill="#16782f"/>
<rect x="307.40" y="513.00" width="9.4" height="9.4" fill="#16782f"/>
<rect x="313.20" y="514.60" width="9.4" height="9.4" fill="#16782f"/>
<rect x="318.20" y="516.80" width="9.4" height="9.4" fill="#16782f"/>
<circle cx="71.60" cy="515.40" r="4.6" fill="#e8222b"/>
<circle cx="90.20" cy="499.40" r="4.6" fill="#e8222b"/>
<circle cx="119.60" cy="470.00" r="4.6" fill="#e8222b"/>
<circle cx="153.20" cy="425.40" r="4.6" fill="#e8222b"/>
<circle cx="178.90" cy="405.70" r="4.6" fill="#e8222b"/>
<circle cx="197.60" cy="383.00" r="4.6" fill="#e8222b"/>
<circle cx="212.50" cy="387.10" r="4.6" fill="#e8222b"/>
<circle cx="238.70" cy="425.20" r="4.6" fill="#e8222b"/>
<circle cx="271.50" cy="459.10" r="4.6" fill="#e8222b"/>
<circle cx="297.60" cy="483.60" r="4.6" fill="#e8222b"/>
<circle cx="322.30" cy="502.30" r="4.6" fill="#e8222b"/>
<path d="M98.90,512.50 L108.30,512.50 L103.60,521.90 Z" fill="#acb722"/>
<path d="M129.70,492.90 L139.10,492.90 L134.40,502.30 Z" fill="#acb722"/>
<path d="M149.30,475.30 L158.70,475.30 L154.00,484.70 Z" fill="#acb722"/>
<path d="M160.30,457.90 L169.70,457.90 L165.00,467.30 Z" fill="#acb722"/>
<path d="M177.70,439.90 L187.10,439.90 L182.40,449.30 Z" fill="#acb722"/>
<path d="M190.00,420.70 L199.40,420.70 L194.70,430.10 Z" fill="#acb722"/>
<path d="M201.00,403.90 L210.40,403.90 L205.70,413.30 Z" fill="#acb722"/>
<path d="M213.10,386.00 L222.50,386.00 L217.80,395.40 Z" fill="#acb722"/>
<path d="M227.40,371.60 L236.80,371.60 L232.10,381.00 Z" fill="#acb722"/>
<path d="M241.90,360.80 L251.30,360.80 L246.60,370.20 Z" fill="#acb722"/>
<path d="M255.20,354.50 L264.60,354.50 L259.90,363.90 Z" fill="#acb722"/>
<path d="M266.10,365.10 L275.50,365.10 L270.80,374.50 Z" fill="#acb722"/>
<path d="M274.10,376.10 L283.50,376.10 L278.80,385.50 Z" fill="#acb722"/>
<path d="M281.10,386.00 L290.50,386.00 L285.80,395.40 Z" fill="#acb722"/>
<path d="M288.00,397.00 L297.40,397.00 L292.70,406.40 Z" fill="#acb722"/>
<path d="M294.00,405.50 L303.40,405.50 L298.70,414.90 Z" fill="#acb722"/>
<path d="M299.00,412.90 L308.40,412.90 L303.70,422.30 Z" fill="#acb722"/>
<path d="M304.00,419.90 L313.40,419.90 L308.70,429.30 Z" fill="#acb722"/>
<path d="M309.00,425.90 L318.40,425.90 L313.70,435.30 Z" fill="#acb722"/>
<path d="M313.90,431.80 L323.30,431.80 L318.60,441.20 Z" fill="#acb722"/>
<path d="M318.80,437.80 L328.20,437.80 L323.50,447.20 Z" fill="#acb722"/>
<path d="M193.20,464.70 L200.80,472.30 M193.20,472.30 L200.80,464.70" stroke="#2a3ea8" stroke-width="1.6" fill="none"/>
<path d="M211.50,441.50 L219.10,449.10 M211.50,449.10 L219.10,441.50" stroke="#2a3ea8" stroke-width="1.6" fill="none"/>
<path d="M223.50,414.80 L231.10,422.40 M223.50,422.40 L231.10,414.80" stroke="#2a3ea8" stroke-width="1.6" fill="none"/>
<path d="M234.00,395.10 L241.60,402.70 M234.00,402.70 L241.60,395.10" stroke="#2a3ea8" stroke-width="1.6" fill="none"/>
<path d="M244.40,372.00 L252.00,379.60 M244.40,379.60 L252.00,372.00" stroke="#2a3ea8" stroke-width="1.6" fill="none"/>
<path d="M254.10,357.00 L261.70,364.60 M254.10,364.60 L261.70,357.00" stroke="#2a3ea8" stroke-width="1.6" fill="none"/>
<path d="M260.50,342.10 L268.10,349.70 M260.50,349.70 L268.10,342.10" stroke="#2a3ea8" stroke-width="1.6" fill="none"/>
<path d="M268.00,332.10 L275.60,339.70 M268.00,339.70 L275.60,332.10" stroke="#2a3ea8" stroke-width="1.6" fill="none"/>
<path d="M274.00,327.80 L281.60,335.40 M274.00,335.40 L281.60,327.80" stroke="#2a3ea8" stroke-width="1.6" fill="none"/>
<path d="M279.00,328.20 L286.60,335.80 M279.00,335.80 L286.60,328.20" stroke="#2a3ea8" stroke-width="1.6" fill="none"/>
<path d="M283.00,328.60 L290.60,336.20 M283.00,336.20 L290.60,328.60" stroke="#2a3ea8" stroke-width="1.6" fill="none"/>
<path d="M289.90,331.10 L297.50,338.70 M289.90,338.70 L297.50,331.10" stroke="#2a3ea8" stroke-width="1.6" fill="none"/>
<path d="M294.90,333.70 L302.50,341.30 M294.90,341.30 L302.50,333.70" stroke="#2a3ea8" stroke-width="1.6" fill="none"/>
<path d="M299.90,336.10 L307.50,343.70 M299.90,343.70 L307.50,336.10" stroke="#2a3ea8" stroke-width="1.6" fill="none"/>
<path d="M304.90,339.10 L312.50,346.70 M304.90,346.70 L312.50,339.10" stroke="#2a3ea8" stroke-width="1.6" fill="none"/>
<path d="M309.90,343.10 L317.50,350.70 M309.90,350.70 L317.50,343.10" stroke="#2a3ea8" stroke-width="1.6" fill="none"/>
<path d="M314.80,348.10 L322.40,355.70 M314.80,355.70 L322.40,348.10" stroke="#2a3ea8" stroke-width="1.6" fill="none"/>
<path d="M50.50,543.27 L51.18,543.21 L51.86,543.15 L52.55,543.09 L53.23,543.03 L53.91,542.96 L54.59,542.90 L55.27,542.83 L55.95,542.77 L56.64,542.70 L57.32,542.63 L58.00,542.56 L58.68,542.49 L59.36,542.42 L60.04,542.35 L60.73,542.27 L61.41,542.20 L62.09,542.13 L62.77,542.05 L63.45,541.97 L64.13,541.89 L64.82,541.82 L65.50,541.74 L66.18,541.66 L66.86,541.57 L67.54,541.49 L68.22,541.41 L68.91,541.32 L69.59,541.23 L70.27,541.15 L70.95,541.06 L71.63,540.97 L72.31,540.88 L73.00,540.79 L73.68,540.69 L74.36,540.60 L75.04,540.50 L75.72,540.40 L76.40,540.31 L77.09,540.21 L77.77,540.11 L78.45,540.00 L79.13,539.90 L79.81,539.79 L80.49,539.69 L81.18,539.58 L81.86,539.47 L82.54,539.36 L83.22,539.25 L83.90,539.13 L84.59,539.02 L85.27,538.90 L85.95,538.79 L86.63,538.67 L87.31,538.54 L87.99,538.42 L88.68,538.30 L89.36,538.17 L90.04,538.04 L90.72,537.91 L91.40,537.78 L92.08,537.65 L92.77,537.52 L93.45,537.38 L94.13,537.24 L94.81,537.10 L95.49,536.96 L96.17,536.82 L96.86,536.67 L97.54,536.53 L98.22,536.38 L98.90,536.23 L99.58,536.07 L100.26,535.92 L100.95,535.76 L101.63,535.60 L102.31,535.44 L102.99,535.28 L103.67,535.11 L104.35,534.94 L105.04,534.77 L105.72,534.60 L106.40,534.43 L107.08,534.25 L107.76,534.07 L108.44,533.89 L109.13,533.71 L109.81,533.52 L110.49,533.33 L111.17,533.14 L111.85,532.95 L112.54,532.76 L113.22,532.56 L113.90,532.36 L114.58,532.15 L115.26,531.95 L115.94,531.74 L116.63,531.53 L117.31,531.31 L117.99,531.10 L118.67,530.88 L119.35,530.65 L120.03,530.43 L120.72,530.20 L121.40,529.97 L122.08,529.73 L122.76,529.50 L123.44,529.26 L124.12,529.01 L124.81,528.77 L125.49,528.52 L126.17,528.26 L126.85,528.01 L127.53,527.75 L128.21,527.49 L128.90,527.22 L129.58,526.95 L130.26,526.68 L130.94,526.40 L131.62,526.12 L132.30,525.84 L132.99,525.55 L133.67,525.26 L134.35,524.96 L135.03,524.66 L135.71,524.36 L136.39,524.05 L137.08,523.74 L137.76,523.43 L138.44,523.11 L139.12,522.79 L139.80,522.46 L140.48,522.13 L141.17,521.80 L141.85,521.46 L142.53,521.12 L143.21,520.77 L143.89,520.42 L144.58,520.06 L145.26,519.70 L145.94,519.33 L146.62,518.96 L147.30,518.59 L147.98,518.21 L148.67,517.82 L149.35,517.43 L150.03,517.04 L150.71,516.64 L151.39,516.23 L152.07,515.83 L152.76,515.41 L153.44,514.99 L154.12,514.57 L154.80,514.14 L155.48,513.70 L156.16,513.26 L156.85,512.81 L157.53,512.36 L158.21,511.90 L158.89,511.44 L159.57,510.97 L160.25,510.50 L160.94,510.02 L161.62,509.53 L162.30,509.04 L162.98,508.54 L163.66,508.03 L164.34,507.52 L165.03,507.01 L165.71,506.48 L166.39,505.95 L167.07,505.42 L167.75,504.87 L168.43,504.32 L169.12,503.77 L169.80,503.21 L170.48,502.64 L171.16,502.06 L171.84,501.48 L172.53,500.89 L173.21,500.29 L173.89,499.69 L174.57,499.08 L175.25,498.46 L175.93,497.83 L176.62,497.20 L177.30,496.56 L177.98,495.91 L178.66,495.26 L179.34,494.59 L180.02,493.92 L180.71,493.24 L181.39,492.56 L182.07,491.87 L182.75,491.16 L183.43,490.45 L184.11,489.74 L184.80,489.01 L185.48,488.28 L186.16,487.54 L186.84,486.79 L187.52,486.03 L188.20,485.26 L188.89,484.48 L189.57,483.70 L190.25,482.91 L190.93,482.11 L191.61,481.30 L192.29,480.48 L192.98,479.66 L193.66,478.82 L194.34,477.98 L195.02,477.12 L195.70,476.26 L196.38,475.39 L197.07,474.51 L197.75,473.63 L198.43,472.73 L199.11,471.82 L199.79,470.91 L200.47,469.99 L201.16,469.05 L201.84,468.11 L202.52,467.16 L203.20,466.20 L203.88,465.23 L204.57,464.26 L205.25,463.27 L205.93,462.28 L206.61,461.27 L207.29,460.26 L207.97,459.24 L208.66,458.21 L209.34,457.17 L210.02,456.12 L210.70,455.06 L211.38,454.00 L212.06,452.92 L212.75,451.84 L213.43,450.75 L214.11,449.65 L214.79,448.54 L215.47,447.43 L216.15,446.30 L216.84,445.17 L217.52,444.03 L218.20,442.89 L218.88,441.73 L219.56,440.57 L220.24,439.40 L220.93,438.22 L221.61,437.04 L222.29,435.85 L222.97,434.65 L223.65,433.45 L224.33,432.24 L225.02,431.02 L225.70,429.80 L226.38,428.57 L227.06,427.34 L227.74,426.10 L228.42,424.86 L229.11,423.61 L229.79,422.36 L230.47,421.10 L231.15,419.84 L231.83,418.58 L232.52,417.31 L233.20,416.04 L233.88,414.77 L234.56,413.50 L235.24,412.22 L235.92,410.94 L236.61,409.67 L237.29,408.39 L237.97,407.11 L238.65,405.83 L239.33,404.55 L240.01,403.27 L240.70,401.99 L241.38,400.72 L242.06,399.45 L242.74,398.18 L243.42,396.91 L244.10,395.65 L244.79,394.39 L245.47,393.13 L246.15,391.89 L246.83,390.64 L247.51,389.41 L248.19,388.18 L248.88,386.96 L249.56,385.74 L250.24,384.54 L250.92,383.34 L251.60,382.15 L252.28,380.98 L252.97,379.81 L253.65,378.66 L254.33,377.51 L255.01,376.38 L255.69,375.27 L256.37,374.16 L257.06,373.07 L257.74,372.00 L258.42,370.94 L259.10,369.90 L259.78,368.88 L260.46,367.87 L261.15,366.88 L261.83,365.91 L262.51,364.95 L263.19,364.02 L263.87,363.11 L264.56,362.21 L265.24,361.34 L265.92,360.49 L266.60,359.67 L267.28,358.86 L267.96,358.08 L268.65,357.33 L269.33,356.59 L270.01,355.89 L270.69,355.20 L271.37,354.55 L272.05,353.91 L272.74,353.31 L273.42,352.73 L274.10,352.18 L274.78,351.66 L275.46,351.16 L276.14,350.70 L276.83,350.26 L277.51,349.85 L278.19,349.47 L278.87,349.11 L279.55,348.79 L280.23,348.50 L280.92,348.23 L281.60,348.00 L282.28,347.80 L282.96,347.62 L283.64,347.48 L284.32,347.36 L285.01,347.28 L285.69,347.23 L286.37,347.20 L287.05,347.21 L287.73,347.25 L288.41,347.31 L289.10,347.41 L289.78,347.53 L290.46,347.69 L291.14,347.87 L291.82,348.08 L292.51,348.33 L293.19,348.60 L293.87,348.89 L294.55,349.22 L295.23,349.58 L295.91,349.96 L296.60,350.36 L297.28,350.80 L297.96,351.26 L298.64,351.75 L299.32,352.26 L300.00,352.80 L300.69,353.36 L301.37,353.95 L302.05,354.56 L302.73,355.19 L303.41,355.85 L304.09,356.52 L304.78,357.22 L305.46,357.95 L306.14,358.69 L306.82,359.45 L307.50,360.23 L308.18,361.04 L308.87,361.86 L309.55,362.69 L310.23,363.55 L310.91,364.42 L311.59,365.31 L312.27,366.22 L312.96,367.14 L313.64,368.08 L314.32,369.03 L315.00,370.00 L315.68,370.97 L316.36,371.97 L317.05,372.97 L317.73,373.98 L318.41,375.01 L319.09,376.05 L319.77,377.10 L320.45,378.15 L321.14,379.22 L321.82,380.30 L322.50,381.38" stroke="#2a3ea8" stroke-width="2.2" fill="none" stroke-dasharray="14.0 3.5 2.2 3.5"/>
<path d="M50.50,541.14 L51.18,541.05 L51.86,540.95 L52.55,540.86 L53.23,540.77 L53.91,540.67 L54.59,540.58 L55.27,540.48 L55.95,540.38 L56.64,540.28 L57.32,540.18 L58.00,540.07 L58.68,539.97 L59.36,539.86 L60.04,539.76 L60.73,539.65 L61.41,539.54 L62.09,539.42 L62.77,539.31 L63.45,539.20 L64.13,539.08 L64.82,538.96 L65.50,538.84 L66.18,538.72 L66.86,538.60 L67.54,538.48 L68.22,538.35 L68.91,538.22 L69.59,538.09 L70.27,537.96 L70.95,537.83 L71.63,537.70 L72.31,537.56 L73.00,537.42 L73.68,537.28 L74.36,537.14 L75.04,537.00 L75.72,536.85 L76.40,536.70 L77.09,536.55 L77.77,536.40 L78.45,536.25 L79.13,536.09 L79.81,535.94 L80.49,535.78 L81.18,535.62 L81.86,535.45 L82.54,535.29 L83.22,535.12 L83.90,534.95 L84.59,534.77 L85.27,534.60 L85.95,534.42 L86.63,534.24 L87.31,534.06 L87.99,533.88 L88.68,533.69 L89.36,533.50 L90.04,533.31 L90.72,533.11 L91.40,532.92 L92.08,532.72 L92.77,532.51 L93.45,532.31 L94.13,532.10 L94.81,531.89 L95.49,531.68 L96.17,531.46 L96.86,531.24 L97.54,531.02 L98.22,530.80 L98.90,530.57 L99.58,530.34 L100.26,530.10 L100.95,529.87 L101.63,529.63 L102.31,529.38 L102.99,529.14 L103.67,528.89 L104.35,528.64 L105.04,528.38 L105.72,528.12 L106.40,527.86 L107.08,527.59 L107.76,527.32 L108.44,527.05 L109.13,526.77 L109.81,526.49 L110.49,526.21 L111.17,525.92 L111.85,525.63 L112.54,525.33 L113.22,525.03 L113.90,524.73 L114.58,524.42 L115.26,524.11 L115.94,523.79 L116.63,523.47 L117.31,523.15 L117.99,522.82 L118.67,522.49 L119.35,522.15 L120.03,521.81 L120.72,521.47 L121.40,521.12 L122.08,520.77 L122.76,520.41 L123.44,520.04 L124.12,519.67 L124.81,519.30 L125.49,518.92 L126.17,518.54 L126.85,518.15 L127.53,517.76 L128.21,517.36 L128.90,516.96 L129.58,516.55 L130.26,516.14 L130.94,515.72 L131.62,515.30 L132.30,514.87 L132.99,514.44 L133.67,514.00 L134.35,513.55 L135.03,513.10 L135.71,512.64 L136.39,512.18 L137.08,511.71 L137.76,511.24 L138.44,510.76 L139.12,510.27 L139.80,509.78 L140.48,509.28 L141.17,508.78 L141.85,508.27 L142.53,507.75 L143.21,507.22 L143.89,506.69 L144.58,506.16 L145.26,505.61 L145.94,505.06 L146.62,504.51 L147.30,503.94 L147.98,503.37 L148.67,502.80 L149.35,502.21 L150.03,501.62 L150.71,501.02 L151.39,500.42 L152.07,499.80 L152.76,499.18 L153.44,498.55 L154.12,497.92 L154.80,497.27 L155.48,496.62 L156.16,495.97 L156.85,495.30 L157.53,494.63 L158.21,493.94 L158.89,493.26 L159.57,492.56 L160.25,491.85 L160.94,491.14 L161.62,490.42 L162.30,489.69 L162.98,488.95 L163.66,488.20 L164.34,487.45 L165.03,486.68 L165.71,485.91 L166.39,485.13 L167.07,484.34 L167.75,483.55 L168.43,482.74 L169.12,481.92 L169.80,481.10 L170.48,480.27 L171.16,479.43 L171.84,478.58 L172.53,477.72 L173.21,476.85 L173.89,475.98 L174.57,475.09 L175.25,474.20 L175.93,473.29 L176.62,472.38 L177.30,471.46 L177.98,470.53 L178.66,469.59 L179.34,468.64 L180.02,467.69 L180.71,466.72 L181.39,465.75 L182.07,464.76 L182.75,463.77 L183.43,462.77 L184.11,461.76 L184.80,460.74 L185.48,459.72 L186.16,458.68 L186.84,457.63 L187.52,456.58 L188.20,455.52 L188.89,454.45 L189.57,453.37 L190.25,452.29 L190.93,451.19 L191.61,450.09 L192.29,448.98 L192.98,447.86 L193.66,446.74 L194.34,445.61 L195.02,444.47 L195.70,443.32 L196.38,442.17 L197.07,441.00 L197.75,439.84 L198.43,438.66 L199.11,437.48 L199.79,436.30 L200.47,435.11 L201.16,433.91 L201.84,432.71 L202.52,431.50 L203.20,430.29 L203.88,429.07 L204.57,427.85 L205.25,426.62 L205.93,425.39 L206.61,424.16 L207.29,422.93 L207.97,421.69 L208.66,420.45 L209.34,419.21 L210.02,417.96 L210.70,416.72 L211.38,415.47 L212.06,414.23 L212.75,412.98 L213.43,411.73 L214.11,410.49 L214.79,409.25 L215.47,408.00 L216.15,406.77 L216.84,405.53 L217.52,404.29 L218.20,403.06 L218.88,401.84 L219.56,400.62 L220.24,399.40 L220.93,398.19 L221.61,396.99 L222.29,395.79 L222.97,394.60 L223.65,393.42 L224.33,392.24 L225.02,391.08 L225.70,389.92 L226.38,388.78 L227.06,387.65 L227.74,386.52 L228.42,385.41 L229.11,384.31 L229.79,383.23 L230.47,382.16 L231.15,381.10 L231.83,380.06 L232.52,379.03 L233.20,378.02 L233.88,377.03 L234.56,376.05 L235.24,375.09 L235.92,374.15 L236.61,373.23 L237.29,372.33 L237.97,371.45 L238.65,370.58 L239.33,369.74 L240.01,368.92 L240.70,368.13 L241.38,367.35 L242.06,366.60 L242.74,365.87 L243.42,365.17 L244.10,364.49 L244.79,363.83 L245.47,363.21 L246.15,362.60 L246.83,362.02 L247.51,361.47 L248.19,360.95 L248.88,360.45 L249.56,359.98 L250.24,359.53 L250.92,359.12 L251.60,358.73 L252.28,358.37 L252.97,358.04 L253.65,357.73 L254.33,357.46 L255.01,357.21 L255.69,356.99 L256.37,356.80 L257.06,356.65 L257.74,356.51 L258.42,356.41 L259.10,356.34 L259.78,356.29 L260.46,356.28 L261.15,356.29 L261.83,356.33 L262.51,356.40 L263.19,356.50 L263.87,356.63 L264.56,356.78 L265.24,356.96 L265.92,357.17 L266.60,357.41 L267.28,357.67 L267.96,357.96 L268.65,358.28 L269.33,358.62 L270.01,358.98 L270.69,359.38 L271.37,359.79 L272.05,360.24 L272.74,360.70 L273.42,361.19 L274.10,361.70 L274.78,362.24 L275.46,362.80 L276.14,363.38 L276.83,363.98 L277.51,364.60 L278.19,365.24 L278.87,365.90 L279.55,366.59 L280.23,367.29 L280.92,368.01 L281.60,368.74 L282.28,369.50 L282.96,370.27 L283.64,371.06 L284.32,371.86 L285.01,372.68 L285.69,373.52 L286.37,374.37 L287.05,375.23 L287.73,376.11 L288.41,377.00 L289.10,377.90 L289.78,378.81 L290.46,379.74 L291.14,380.68 L291.82,381.62 L292.51,382.58 L293.19,383.55 L293.87,384.52 L294.55,385.51 L295.23,386.50 L295.91,387.50 L296.60,388.51 L297.28,389.52 L297.96,390.54 L298.64,391.57 L299.32,392.60 L300.00,393.64 L300.69,394.68 L301.37,395.73 L302.05,396.78 L302.73,397.83 L303.41,398.89 L304.09,399.95 L304.78,401.01 L305.46,402.08 L306.14,403.14 L306.82,404.21 L307.50,405.28 L308.18,406.35 L308.87,407.42 L309.55,408.50 L310.23,409.57 L310.91,410.64 L311.59,411.71 L312.27,412.78 L312.96,413.85 L313.64,414.91 L314.32,415.98 L315.00,417.04 L315.68,418.10 L316.36,419.16 L317.05,420.22 L317.73,421.28 L318.41,422.33 L319.09,423.38 L319.77,424.42 L320.45,425.46 L321.14,426.50 L321.82,427.54 L322.50,428.57" stroke="#acb722" stroke-width="2.2" fill="none" stroke-dasharray="14.0 3.5 2.2 3.5"/>
<path d="M50.50,533.32 L51.18,533.13 L51.86,532.94 L52.55,532.74 L53.23,532.54 L53.91,532.34 L54.59,532.13 L55.27,531.92 L55.95,531.71 L56.64,531.50 L57.32,531.28 L58.00,531.07 L58.68,530.84 L59.36,530.62 L60.04,530.39 L60.73,530.16 L61.41,529.93 L62.09,529.69 L62.77,529.45 L63.45,529.21 L64.13,528.96 L64.82,528.72 L65.50,528.46 L66.18,528.21 L66.86,527.95 L67.54,527.69 L68.22,527.42 L68.91,527.15 L69.59,526.88 L70.27,526.61 L70.95,526.33 L71.63,526.04 L72.31,525.76 L73.00,525.47 L73.68,525.18 L74.36,524.88 L75.04,524.58 L75.72,524.27 L76.40,523.96 L77.09,523.65 L77.77,523.33 L78.45,523.01 L79.13,522.69 L79.81,522.36 L80.49,522.03 L81.18,521.69 L81.86,521.35 L82.54,521.01 L83.22,520.66 L83.90,520.30 L84.59,519.94 L85.27,519.58 L85.95,519.21 L86.63,518.84 L87.31,518.47 L87.99,518.09 L88.68,517.70 L89.36,517.31 L90.04,516.91 L90.72,516.52 L91.40,516.11 L92.08,515.70 L92.77,515.29 L93.45,514.87 L94.13,514.44 L94.81,514.01 L95.49,513.58 L96.17,513.14 L96.86,512.69 L97.54,512.24 L98.22,511.79 L98.90,511.33 L99.58,510.86 L100.26,510.39 L100.95,509.91 L101.63,509.43 L102.31,508.94 L102.99,508.44 L103.67,507.94 L104.35,507.44 L105.04,506.93 L105.72,506.41 L106.40,505.89 L107.08,505.36 L107.76,504.82 L108.44,504.28 L109.13,503.74 L109.81,503.18 L110.49,502.63 L111.17,502.06 L111.85,501.49 L112.54,500.91 L113.22,500.33 L113.90,499.74 L114.58,499.14 L115.26,498.54 L115.94,497.93 L116.63,497.32 L117.31,496.70 L117.99,496.07 L118.67,495.44 L119.35,494.80 L120.03,494.15 L120.72,493.50 L121.40,492.84 L122.08,492.18 L122.76,491.50 L123.44,490.83 L124.12,490.14 L124.81,489.45 L125.49,488.75 L126.17,488.05 L126.85,487.34 L127.53,486.62 L128.21,485.90 L128.90,485.17 L129.58,484.44 L130.26,483.70 L130.94,482.95 L131.62,482.19 L132.30,481.43 L132.99,480.67 L133.67,479.90 L134.35,479.12 L135.03,478.33 L135.71,477.55 L136.39,476.75 L137.08,475.95 L137.76,475.14 L138.44,474.33 L139.12,473.51 L139.80,472.69 L140.48,471.86 L141.17,471.03 L141.85,470.19 L142.53,469.35 L143.21,468.50 L143.89,467.64 L144.58,466.79 L145.26,465.93 L145.94,465.06 L146.62,464.19 L147.30,463.32 L147.98,462.44 L148.67,461.56 L149.35,460.67 L150.03,459.78 L150.71,458.89 L151.39,458.00 L152.07,457.10 L152.76,456.20 L153.44,455.30 L154.12,454.40 L154.80,453.49 L155.48,452.58 L156.16,451.68 L156.85,450.77 L157.53,449.86 L158.21,448.94 L158.89,448.03 L159.57,447.12 L160.25,446.21 L160.94,445.30 L161.62,444.39 L162.30,443.48 L162.98,442.57 L163.66,441.67 L164.34,440.76 L165.03,439.86 L165.71,438.96 L166.39,438.07 L167.07,437.17 L167.75,436.28 L168.43,435.40 L169.12,434.52 L169.80,433.64 L170.48,432.77 L171.16,431.90 L171.84,431.04 L172.53,430.18 L173.21,429.33 L173.89,428.49 L174.57,427.65 L175.25,426.82 L175.93,426.00 L176.62,425.19 L177.30,424.38 L177.98,423.58 L178.66,422.80 L179.34,422.02 L180.02,421.25 L180.71,420.49 L181.39,419.74 L182.07,419.00 L182.75,418.27 L183.43,417.55 L184.11,416.85 L184.80,416.15 L185.48,415.47 L186.16,414.80 L186.84,414.14 L187.52,413.50 L188.20,412.87 L188.89,412.25 L189.57,411.64 L190.25,411.05 L190.93,410.48 L191.61,409.91 L192.29,409.36 L192.98,408.83 L193.66,408.31 L194.34,407.81 L195.02,407.32 L195.70,406.85 L196.38,406.39 L197.07,405.94 L197.75,405.52 L198.43,405.11 L199.11,404.71 L199.79,404.33 L200.47,403.97 L201.16,403.62 L201.84,403.29 L202.52,402.98 L203.20,402.68 L203.88,402.40 L204.57,402.13 L205.25,401.89 L205.93,401.65 L206.61,401.44 L207.29,401.24 L207.97,401.06 L208.66,400.89 L209.34,400.74 L210.02,400.60 L210.70,400.49 L211.38,400.38 L212.06,400.30 L212.75,400.23 L213.43,400.17 L214.11,400.13 L214.79,400.11 L215.47,400.10 L216.15,400.11 L216.84,400.13 L217.52,400.17 L218.20,400.22 L218.88,400.29 L219.56,400.37 L220.24,400.46 L220.93,400.57 L221.61,400.70 L222.29,400.83 L222.97,400.99 L223.65,401.15 L224.33,401.33 L225.02,401.52 L225.70,401.72 L226.38,401.94 L227.06,402.16 L227.74,402.40 L228.42,402.65 L229.11,402.92 L229.79,403.19 L230.47,403.48 L231.15,403.78 L231.83,404.08 L232.52,404.40 L233.20,404.73 L233.88,405.07 L234.56,405.42 L235.24,405.78 L235.92,406.14 L236.61,406.52 L237.29,406.91 L237.97,407.30 L238.65,407.71 L239.33,408.12 L240.01,408.54 L240.70,408.96 L241.38,409.40 L242.06,409.84 L242.74,410.29 L243.42,410.75 L244.10,411.21 L244.79,411.68 L245.47,412.16 L246.15,412.64 L246.83,413.13 L247.51,413.62 L248.19,414.12 L248.88,414.63 L249.56,415.14 L250.24,415.66 L250.92,416.18 L251.60,416.70 L252.28,417.23 L252.97,417.76 L253.65,418.30 L254.33,418.84 L255.01,419.39 L255.69,419.94 L256.37,420.49 L257.06,421.05 L257.74,421.61 L258.42,422.17 L259.10,422.73 L259.78,423.30 L260.46,423.87 L261.15,424.44 L261.83,425.02 L262.51,425.59 L263.19,426.17 L263.87,426.75 L264.56,427.33 L265.24,427.92 L265.92,428.50 L266.60,429.09 L267.28,429.68 L267.96,430.26 L268.65,430.85 L269.33,431.44 L270.01,432.04 L270.69,432.63 L271.37,433.22 L272.05,433.81 L272.74,434.41 L273.42,435.00 L274.10,435.59 L274.78,436.19 L275.46,436.78 L276.14,437.37 L276.83,437.97 L277.51,438.56 L278.19,439.15 L278.87,439.74 L279.55,440.34 L280.23,440.93 L280.92,441.52 L281.60,442.11 L282.28,442.70 L282.96,443.28 L283.64,443.87 L284.32,444.46 L285.01,445.04 L285.69,445.63 L286.37,446.21 L287.05,446.79 L287.73,447.37 L288.41,447.95 L289.10,448.53 L289.78,449.10 L290.46,449.68 L291.14,450.25 L291.82,450.82 L292.51,451.39 L293.19,451.96 L293.87,452.53 L294.55,453.09 L295.23,453.66 L295.91,454.22 L296.60,454.78 L297.28,455.34 L297.96,455.89 L298.64,456.45 L299.32,457.00 L300.00,457.55 L300.69,458.10 L301.37,458.64 L302.05,459.19 L302.73,459.73 L303.41,460.27 L304.09,460.81 L304.78,461.34 L305.46,461.88 L306.14,462.41 L306.82,462.94 L307.50,463.46 L308.18,463.99 L308.87,464.51 L309.55,465.03 L310.23,465.55 L310.91,466.06 L311.59,466.58 L312.27,467.09 L312.96,467.60 L313.64,468.10 L314.32,468.61 L315.00,469.11 L315.68,469.61 L316.36,470.10 L317.05,470.60 L317.73,471.09 L318.41,471.58 L319.09,472.07 L319.77,472.55 L320.45,473.03 L321.14,473.51 L321.82,473.99 L322.50,474.47" stroke="#e8222b" stroke-width="2.2" fill="none" stroke-dasharray="14.0 3.5 2.2 3.5"/>
<path d="M50.50,502.21 L51.18,501.63 L51.86,501.05 L52.55,500.47 L53.23,499.87 L53.91,499.27 L54.59,498.67 L55.27,498.05 L55.95,497.44 L56.64,496.81 L57.32,496.18 L58.00,495.54 L58.68,494.90 L59.36,494.24 L60.04,493.59 L60.73,492.92 L61.41,492.25 L62.09,491.57 L62.77,490.89 L63.45,490.20 L64.13,489.50 L64.82,488.80 L65.50,488.09 L66.18,487.37 L66.86,486.65 L67.54,485.92 L68.22,485.18 L68.91,484.44 L69.59,483.69 L70.27,482.94 L70.95,482.17 L71.63,481.41 L72.31,480.63 L73.00,479.85 L73.68,479.07 L74.36,478.27 L75.04,477.48 L75.72,476.67 L76.40,475.86 L77.09,475.04 L77.77,474.22 L78.45,473.40 L79.13,472.56 L79.81,471.72 L80.49,470.88 L81.18,470.03 L81.86,469.18 L82.54,468.32 L83.22,467.46 L83.90,466.59 L84.59,465.72 L85.27,464.84 L85.95,463.96 L86.63,463.07 L87.31,462.18 L87.99,461.29 L88.68,460.40 L89.36,459.50 L90.04,458.59 L90.72,457.69 L91.40,456.78 L92.08,455.87 L92.77,454.96 L93.45,454.04 L94.13,453.13 L94.81,452.21 L95.49,451.29 L96.17,450.37 L96.86,449.45 L97.54,448.52 L98.22,447.60 L98.90,446.68 L99.58,445.76 L100.26,444.84 L100.95,443.92 L101.63,443.00 L102.31,442.08 L102.99,441.17 L103.67,440.26 L104.35,439.35 L105.04,438.44 L105.72,437.53 L106.40,436.63 L107.08,435.74 L107.76,434.85 L108.44,433.96 L109.13,433.08 L109.81,432.20 L110.49,431.33 L111.17,430.46 L111.85,429.60 L112.54,428.75 L113.22,427.91 L113.90,427.07 L114.58,426.24 L115.26,425.42 L115.94,424.61 L116.63,423.80 L117.31,423.01 L117.99,422.23 L118.67,421.45 L119.35,420.69 L120.03,419.94 L120.72,419.20 L121.40,418.47 L122.08,417.75 L122.76,417.04 L123.44,416.35 L124.12,415.67 L124.81,415.00 L125.49,414.35 L126.17,413.71 L126.85,413.08 L127.53,412.47 L128.21,411.87 L128.90,411.29 L129.58,410.72 L130.26,410.17 L130.94,409.63 L131.62,409.11 L132.30,408.61 L132.99,408.12 L133.67,407.65 L134.35,407.19 L135.03,406.76 L135.71,406.33 L136.39,405.93 L137.08,405.54 L137.76,405.17 L138.44,404.82 L139.12,404.48 L139.80,404.17 L140.48,403.86 L141.17,403.58 L141.85,403.32 L142.53,403.07 L143.21,402.84 L143.89,402.63 L144.58,402.44 L145.26,402.26 L145.94,402.10 L146.62,401.96 L147.30,401.84 L147.98,401.73 L148.67,401.64 L149.35,401.57 L150.03,401.52 L150.71,401.48 L151.39,401.47 L152.07,401.46 L152.76,401.48 L153.44,401.51 L154.12,401.56 L154.80,401.62 L155.48,401.70 L156.16,401.80 L156.85,401.91 L157.53,402.04 L158.21,402.18 L158.89,402.34 L159.57,402.51 L160.25,402.70 L160.94,402.91 L161.62,403.12 L162.30,403.35 L162.98,403.60 L163.66,403.86 L164.34,404.13 L165.03,404.42 L165.71,404.71 L166.39,405.02 L167.07,405.35 L167.75,405.68 L168.43,406.03 L169.12,406.39 L169.80,406.76 L170.48,407.14 L171.16,407.53 L171.84,407.94 L172.53,408.35 L173.21,408.77 L173.89,409.21 L174.57,409.65 L175.25,410.10 L175.93,410.56 L176.62,411.03 L177.30,411.51 L177.98,412.00 L178.66,412.49 L179.34,412.99 L180.02,413.50 L180.71,414.02 L181.39,414.54 L182.07,415.08 L182.75,415.61 L183.43,416.16 L184.11,416.71 L184.80,417.26 L185.48,417.82 L186.16,418.39 L186.84,418.96 L187.52,419.54 L188.20,420.12 L188.89,420.71 L189.57,421.30 L190.25,421.89 L190.93,422.49 L191.61,423.09 L192.29,423.70 L192.98,424.31 L193.66,424.92 L194.34,425.54 L195.02,426.15 L195.70,426.77 L196.38,427.40 L197.07,428.02 L197.75,428.65 L198.43,429.28 L199.11,429.91 L199.79,430.54 L200.47,431.18 L201.16,431.82 L201.84,432.45 L202.52,433.09 L203.20,433.73 L203.88,434.37 L204.57,435.01 L205.25,435.65 L205.93,436.29 L206.61,436.93 L207.29,437.58 L207.97,438.22 L208.66,438.86 L209.34,439.50 L210.02,440.14 L210.70,440.79 L211.38,441.43 L212.06,442.07 L212.75,442.71 L213.43,443.35 L214.11,443.98 L214.79,444.62 L215.47,445.26 L216.15,445.89 L216.84,446.52 L217.52,447.16 L218.20,447.79 L218.88,448.42 L219.56,449.05 L220.24,449.67 L220.93,450.30 L221.61,450.92 L222.29,451.54 L222.97,452.16 L223.65,452.78 L224.33,453.40 L225.02,454.01 L225.70,454.63 L226.38,455.24 L227.06,455.84 L227.74,456.45 L228.42,457.05 L229.11,457.66 L229.79,458.26 L230.47,458.85 L231.15,459.45 L231.83,460.04 L232.52,460.63 L233.20,461.22 L233.88,461.80 L234.56,462.39 L235.24,462.97 L235.92,463.54 L236.61,464.12 L237.29,464.69 L237.97,465.26 L238.65,465.83 L239.33,466.39 L240.01,466.96 L240.70,467.51 L241.38,468.07 L242.06,468.62 L242.74,469.18 L243.42,469.72 L244.10,470.27 L244.79,470.81 L245.47,471.35 L246.15,471.89 L246.83,472.42 L247.51,472.95 L248.19,473.48 L248.88,474.01 L249.56,474.53 L250.24,475.05 L250.92,475.57 L251.60,476.08 L252.28,476.59 L252.97,477.10 L253.65,477.61 L254.33,478.11 L255.01,478.61 L255.69,479.10 L256.37,479.60 L257.06,480.09 L257.74,480.58 L258.42,481.06 L259.10,481.54 L259.78,482.02 L260.46,482.50 L261.15,482.97 L261.83,483.44 L262.51,483.91 L263.19,484.38 L263.87,484.84 L264.56,485.30 L265.24,485.75 L265.92,486.21 L266.60,486.66 L267.28,487.11 L267.96,487.55 L268.65,487.99 L269.33,488.43 L270.01,488.87 L270.69,489.30 L271.37,489.73 L272.05,490.16 L272.74,490.59 L273.42,491.01 L274.10,491.43 L274.78,491.85 L275.46,492.26 L276.14,492.67 L276.83,493.08 L277.51,493.49 L278.19,493.89 L278.87,494.29 L279.55,494.69 L280.23,495.08 L280.92,495.48 L281.60,495.87 L282.28,496.26 L282.96,496.64 L283.64,497.02 L284.32,497.40 L285.01,497.78 L285.69,498.15 L286.37,498.53 L287.05,498.89 L287.73,499.26 L288.41,499.63 L289.10,499.99 L289.78,500.35 L290.46,500.70 L291.14,501.06 L291.82,501.41 L292.51,501.76 L293.19,502.11 L293.87,502.45 L294.55,502.79 L295.23,503.13 L295.91,503.47 L296.60,503.80 L297.28,504.14 L297.96,504.47 L298.64,504.80 L299.32,505.12 L300.00,505.44 L300.69,505.77 L301.37,506.08 L302.05,506.40 L302.73,506.71 L303.41,507.03 L304.09,507.34 L304.78,507.64 L305.46,507.95 L306.14,508.25 L306.82,508.55 L307.50,508.85 L308.18,509.15 L308.87,509.44 L309.55,509.73 L310.23,510.02 L310.91,510.31 L311.59,510.60 L312.27,510.88 L312.96,511.16 L313.64,511.44 L314.32,511.72 L315.00,512.00 L315.68,512.27 L316.36,512.54 L317.05,512.81 L317.73,513.08 L318.41,513.35 L319.09,513.61 L319.77,513.87 L320.45,514.13 L321.14,514.39 L321.82,514.64 L322.50,514.90" stroke="#16782f" stroke-width="2.2" fill="none" stroke-dasharray="14.0 3.5 2.2 3.5"/>
<path d="M50.50,443.59 L51.18,443.25 L51.86,442.93 L52.55,442.62 L53.23,442.33 L53.91,442.05 L54.59,441.78 L55.27,441.52 L55.95,441.29 L56.64,441.06 L57.32,440.85 L58.00,440.65 L58.68,440.47 L59.36,440.30 L60.04,440.14 L60.73,440.00 L61.41,439.88 L62.09,439.77 L62.77,439.67 L63.45,439.58 L64.13,439.52 L64.82,439.46 L65.50,439.42 L66.18,439.39 L66.86,439.38 L67.54,439.38 L68.22,439.40 L68.91,439.42 L69.59,439.47 L70.27,439.52 L70.95,439.59 L71.63,439.67 L72.31,439.77 L73.00,439.88 L73.68,440.00 L74.36,440.13 L75.04,440.28 L75.72,440.44 L76.40,440.61 L77.09,440.79 L77.77,440.98 L78.45,441.19 L79.13,441.41 L79.81,441.63 L80.49,441.87 L81.18,442.12 L81.86,442.38 L82.54,442.65 L83.22,442.93 L83.90,443.22 L84.59,443.52 L85.27,443.83 L85.95,444.15 L86.63,444.48 L87.31,444.82 L87.99,445.16 L88.68,445.52 L89.36,445.88 L90.04,446.25 L90.72,446.63 L91.40,447.01 L92.08,447.40 L92.77,447.80 L93.45,448.21 L94.13,448.62 L94.81,449.04 L95.49,449.46 L96.17,449.89 L96.86,450.33 L97.54,450.77 L98.22,451.22 L98.90,451.67 L99.58,452.13 L100.26,452.59 L100.95,453.05 L101.63,453.52 L102.31,454.00 L102.99,454.47 L103.67,454.96 L104.35,455.44 L105.04,455.93 L105.72,456.42 L106.40,456.92 L107.08,457.41 L107.76,457.91 L108.44,458.42 L109.13,458.92 L109.81,459.43 L110.49,459.94 L111.17,460.45 L111.85,460.96 L112.54,461.48 L113.22,461.99 L113.90,462.51 L114.58,463.03 L115.26,463.54 L115.94,464.06 L116.63,464.58 L117.31,465.11 L117.99,465.63 L118.67,466.15 L119.35,466.67 L120.03,467.19 L120.72,467.72 L121.40,468.24 L122.08,468.76 L122.76,469.28 L123.44,469.80 L124.12,470.32 L124.81,470.84 L125.49,471.36 L126.17,471.88 L126.85,472.40 L127.53,472.92 L128.21,473.43 L128.90,473.95 L129.58,474.46 L130.26,474.97 L130.94,475.49 L131.62,476.00 L132.30,476.50 L132.99,477.01 L133.67,477.52 L134.35,478.02 L135.03,478.52 L135.71,479.02 L136.39,479.52 L137.08,480.02 L137.76,480.52 L138.44,481.01 L139.12,481.50 L139.80,481.99 L140.48,482.48 L141.17,482.96 L141.85,483.45 L142.53,483.93 L143.21,484.41 L143.89,484.88 L144.58,485.36 L145.26,485.83 L145.94,486.30 L146.62,486.77 L147.30,487.24 L147.98,487.70 L148.67,488.16 L149.35,488.62 L150.03,489.07 L150.71,489.53 L151.39,489.98 L152.07,490.43 L152.76,490.87 L153.44,491.32 L154.12,491.76 L154.80,492.20 L155.48,492.63 L156.16,493.07 L156.85,493.50 L157.53,493.93 L158.21,494.35 L158.89,494.78 L159.57,495.20 L160.25,495.61 L160.94,496.03 L161.62,496.44 L162.30,496.85 L162.98,497.26 L163.66,497.67 L164.34,498.07 L165.03,498.47 L165.71,498.87 L166.39,499.26 L167.07,499.65 L167.75,500.04 L168.43,500.43 L169.12,500.81 L169.80,501.19 L170.48,501.57 L171.16,501.95 L171.84,502.32 L172.53,502.70 L173.21,503.06 L173.89,503.43 L174.57,503.79 L175.25,504.15 L175.93,504.51 L176.62,504.87 L177.30,505.22 L177.98,505.57 L178.66,505.92 L179.34,506.27 L180.02,506.61 L180.71,506.95 L181.39,507.29 L182.07,507.63 L182.75,507.96 L183.43,508.29 L184.11,508.62 L184.80,508.95 L185.48,509.27 L186.16,509.59 L186.84,509.91 L187.52,510.23 L188.20,510.54 L188.89,510.85 L189.57,511.16 L190.25,511.47 L190.93,511.77 L191.61,512.07 L192.29,512.37 L192.98,512.67 L193.66,512.97 L194.34,513.26 L195.02,513.55 L195.70,513.84 L196.38,514.13 L197.07,514.41 L197.75,514.69 L198.43,514.97 L199.11,515.25 L199.79,515.53 L200.47,515.80 L201.16,516.07 L201.84,516.34 L202.52,516.61 L203.20,516.87 L203.88,517.13 L204.57,517.39 L205.25,517.65 L205.93,517.91 L206.61,518.16 L207.29,518.42 L207.97,518.67 L208.66,518.91 L209.34,519.16 L210.02,519.41 L210.70,519.65 L211.38,519.89 L212.06,520.13 L212.75,520.36 L213.43,520.60 L214.11,520.83 L214.79,521.06 L215.47,521.29 L216.15,521.52 L216.84,521.74 L217.52,521.97 L218.20,522.19 L218.88,522.41 L219.56,522.63 L220.24,522.84 L220.93,523.06 L221.61,523.27 L222.29,523.48 L222.97,523.69 L223.65,523.90 L224.33,524.10 L225.02,524.31 L225.70,524.51 L226.38,524.71 L227.06,524.91 L227.74,525.11 L228.42,525.30 L229.11,525.50 L229.79,525.69 L230.47,525.88 L231.15,526.07 L231.83,526.26 L232.52,526.44 L233.20,526.63 L233.88,526.81 L234.56,526.99 L235.24,527.17 L235.92,527.35 L236.61,527.53 L237.29,527.70 L237.97,527.88 L238.65,528.05 L239.33,528.22 L240.01,528.39 L240.70,528.56 L241.38,528.73 L242.06,528.89 L242.74,529.06 L243.42,529.22 L244.10,529.38 L244.79,529.54 L245.47,529.70 L246.15,529.86 L246.83,530.01 L247.51,530.17 L248.19,530.32 L248.88,530.47 L249.56,530.62 L250.24,530.77 L250.92,530.92 L251.60,531.07 L252.28,531.21 L252.97,531.36 L253.65,531.50 L254.33,531.64 L255.01,531.78 L255.69,531.92 L256.37,532.06 L257.06,532.20 L257.74,532.34 L258.42,532.47 L259.10,532.60 L259.78,532.74 L260.46,532.87 L261.15,533.00 L261.83,533.13 L262.51,533.26 L263.19,533.38 L263.87,533.51 L264.56,533.63 L265.24,533.76 L265.92,533.88 L266.60,534.00 L267.28,534.12 L267.96,534.24 L268.65,534.36 L269.33,534.48 L270.01,534.60 L270.69,534.71 L271.37,534.83 L272.05,534.94 L272.74,535.05 L273.42,535.16 L274.10,535.28 L274.78,535.39 L275.46,535.49 L276.14,535.60 L276.83,535.71 L277.51,535.82 L278.19,535.92 L278.87,536.02 L279.55,536.13 L280.23,536.23 L280.92,536.33 L281.60,536.43 L282.28,536.53 L282.96,536.63 L283.64,536.73 L284.32,536.83 L285.01,536.92 L285.69,537.02 L286.37,537.11 L287.05,537.21 L287.73,537.30 L288.41,537.39 L289.10,537.49 L289.78,537.58 L290.46,537.67 L291.14,537.75 L291.82,537.84 L292.51,537.93 L293.19,538.02 L293.87,538.10 L294.55,538.19 L295.23,538.27 L295.91,538.36 L296.60,538.44 L297.28,538.52 L297.96,538.61 L298.64,538.69 L299.32,538.77 L300.00,538.85 L300.69,538.93 L301.37,539.00 L302.05,539.08 L302.73,539.16 L303.41,539.24 L304.09,539.31 L304.78,539.39 L305.46,539.46 L306.14,539.53 L306.82,539.61 L307.50,539.68 L308.18,539.75 L308.87,539.82 L309.55,539.89 L310.23,539.96 L310.91,540.03 L311.59,540.10 L312.27,540.17 L312.96,540.24 L313.64,540.30 L314.32,540.37 L315.00,540.44 L315.68,540.50 L316.36,540.57 L317.05,540.63 L317.73,540.69 L318.41,540.76 L319.09,540.82 L319.77,540.88 L320.45,540.94 L321.14,541.00 L321.82,541.06 L322.50,541.12" stroke="#000000" stroke-width="2.2" fill="none" stroke-dasharray="14.0 3.5 2.2 3.5"/>
</g>
<g clip-path="url(#clipB)">
<rect x="435.35" y="161.79" width="9.4" height="9.4" fill="#16782f"/>
<rect x="446.36" y="157.93" width="9.4" height="9.4" fill="#16782f"/>
<rect x="456.58" y="149.49" width="9.4" height="9.4" fill="#16782f"/>
<rect x="463.89" y="145.40" width="9.4" height="9.4" fill="#16782f"/>
<rect x="471.20" y="139.73" width="9.4" height="9.4" fill="#16782f"/>
<rect x="482.92" y="133.49" width="9.4" height="9.4" fill="#16782f"/>
<rect x="487.22" y="129.62" width="9.4" height="9.4" fill="#16782f"/>
<rect x="506.65" y="120.17" width="9.4" height="9.4" fill="#16782f"/>
<rect x="522.17" y="113.56" width="9.4" height="9.4" fill="#16782f"/>
<rect x="531.49" y="109.86" width="9.4" height="9.4" fill="#16782f"/>
<rect x="535.69" y="108.99" width="9.4" height="9.4" fill="#16782f"/>
<rect x="549.61" y="104.56" width="9.4" height="9.4" fill="#16782f"/>
<rect x="559.83" y="102.09" width="9.4" height="9.4" fill="#16782f"/>
<rect x="565.04" y="100.81" width="9.4" height="9.4" fill="#16782f"/>
<rect x="573.75" y="98.74" width="9.4" height="9.4" fill="#16782f"/>
<rect x="583.66" y="96.29" width="9.4" height="9.4" fill="#16782f"/>
<rect x="588.97" y="95.15" width="9.4" height="9.4" fill="#16782f"/>
<rect x="594.38" y="93.85" width="9.4" height="9.4" fill="#16782f"/>
<rect x="599.69" y="92.66" width="9.4" height="9.4" fill="#16782f"/>
<rect x="605.00" y="91.53" width="9.4" height="9.4" fill="#16782f"/>
<rect x="612.31" y="90.27" width="9.4" height="9.4" fill="#16782f"/>
<rect x="618.92" y="89.25" width="9.4" height="9.4" fill="#16782f"/>
<rect x="626.23" y="87.43" width="9.4" height="9.4" fill="#16782f"/>
<rect x="636.24" y="87.09" width="9.4" height="9.4" fill="#16782f"/>
<rect x="642.45" y="86.35" width="9.4" height="9.4" fill="#16782f"/>
<rect x="648.26" y="85.58" width="9.4" height="9.4" fill="#16782f"/>
<rect x="654.57" y="85.32" width="9.4" height="9.4" fill="#16782f"/>
<rect x="659.58" y="84.40" width="9.4" height="9.4" fill="#16782f"/>
<rect x="665.38" y="84.26" width="9.4" height="9.4" fill="#16782f"/>
<rect x="671.19" y="82.90" width="9.4" height="9.4" fill="#16782f"/>
<rect x="676.20" y="82.50" width="9.4" height="9.4" fill="#16782f"/>
<circle cx="429.23" cy="195.70" r="4.6" fill="#e8222b"/>
<circle cx="447.86" cy="178.05" r="4.6" fill="#e8222b"/>
<circle cx="477.30" cy="153.82" r="4.6" fill="#e8222b"/>
<circle cx="510.95" cy="128.19" r="4.6" fill="#e8222b"/>
<circle cx="536.69" cy="113.15" r="4.6" fill="#e8222b"/>
<circle cx="555.42" cy="101.29" r="4.6" fill="#e8222b"/>
<circle cx="570.34" cy="95.16" r="4.6" fill="#e8222b"/>
<circle cx="596.58" cy="89.60" r="4.6" fill="#e8222b"/>
<circle cx="629.43" cy="82.30" r="4.6" fill="#e8222b"/>
<circle cx="655.56" cy="78.00" r="4.6" fill="#e8222b"/>
<circle cx="680.30" cy="74.82" r="4.6" fill="#e8222b"/>
<path d="M456.58,177.89 L465.98,177.89 L461.28,187.29 Z" fill="#acb722"/>
<path d="M487.42,152.57 L496.82,152.57 L492.12,161.97 Z" fill="#acb722"/>
<path d="M507.05,136.79 L516.45,136.79 L511.75,146.19 Z" fill="#acb722"/>
<path d="M518.07,126.55 L527.47,126.55 L522.77,135.95 Z" fill="#acb722"/>
<path d="M535.49,114.27 L544.89,114.27 L540.19,123.67 Z" fill="#acb722"/>
<path d="M547.81,104.78 L557.21,104.78 L552.51,114.18 Z" fill="#acb722"/>
<path d="M558.83,96.84 L568.23,96.84 L563.53,106.24 Z" fill="#acb722"/>
<path d="M570.95,88.59 L580.35,88.59 L575.65,97.99 Z" fill="#acb722"/>
<path d="M585.27,80.11 L594.67,80.11 L589.97,89.51 Z" fill="#acb722"/>
<path d="M599.79,72.16 L609.19,72.16 L604.49,81.56 Z" fill="#acb722"/>
<path d="M613.11,65.38 L622.51,65.38 L617.81,74.78 Z" fill="#acb722"/>
<path d="M624.02,61.80 L633.42,61.80 L628.72,71.20 Z" fill="#acb722"/>
<path d="M632.04,59.67 L641.44,59.67 L636.74,69.07 Z" fill="#acb722"/>
<path d="M639.05,57.93 L648.45,57.93 L643.75,67.33 Z" fill="#acb722"/>
<path d="M645.96,56.50 L655.36,56.50 L650.66,65.90 Z" fill="#acb722"/>
<path d="M651.97,55.18 L661.37,55.18 L656.67,64.58 Z" fill="#acb722"/>
<path d="M656.97,54.20 L666.37,54.20 L661.67,63.60 Z" fill="#acb722"/>
<path d="M661.98,53.23 L671.38,53.23 L666.68,62.63 Z" fill="#acb722"/>
<path d="M666.99,52.13 L676.39,52.13 L671.69,61.53 Z" fill="#acb722"/>
<path d="M671.89,51.11 L681.29,51.11 L676.59,60.51 Z" fill="#acb722"/>
<path d="M676.80,50.18 L686.20,50.18 L681.50,59.58 Z" fill="#acb722"/>
<path d="M551.02,114.68 L558.62,122.28 M551.02,122.28 L558.62,114.68" stroke="#2a3ea8" stroke-width="1.6" fill="none"/>
<path d="M569.34,100.49 L576.94,108.09 M569.34,108.09 L576.94,100.49" stroke="#2a3ea8" stroke-width="1.6" fill="none"/>
<path d="M581.36,89.73 L588.96,97.33 M581.36,97.33 L588.96,89.73" stroke="#2a3ea8" stroke-width="1.6" fill="none"/>
<path d="M591.88,81.71 L599.48,89.31 M591.88,89.31 L599.48,81.71" stroke="#2a3ea8" stroke-width="1.6" fill="none"/>
<path d="M602.29,73.69 L609.89,81.29 M602.29,81.29 L609.89,73.69" stroke="#2a3ea8" stroke-width="1.6" fill="none"/>
<path d="M612.01,67.38 L619.61,74.98 M612.01,74.98 L619.61,67.38" stroke="#2a3ea8" stroke-width="1.6" fill="none"/>
<path d="M618.41,62.72 L626.01,70.32 M618.41,70.32 L626.01,62.72" stroke="#2a3ea8" stroke-width="1.6" fill="none"/>
<path d="M625.93,58.22 L633.53,65.82 M625.93,65.82 L633.53,58.22" stroke="#2a3ea8" stroke-width="1.6" fill="none"/>
<path d="M631.93,55.05 L639.53,62.65 M631.93,62.65 L639.53,55.05" stroke="#2a3ea8" stroke-width="1.6" fill="none"/>
<path d="M636.94,52.84 L644.54,60.44 M636.94,60.44 L644.54,52.84" stroke="#2a3ea8" stroke-width="1.6" fill="none"/>
<path d="M640.95,51.08 L648.55,58.68 M640.95,58.68 L648.55,51.08" stroke="#2a3ea8" stroke-width="1.6" fill="none"/>
<path d="M647.86,48.24 L655.46,55.84 M647.86,55.84 L655.46,48.24" stroke="#2a3ea8" stroke-width="1.6" fill="none"/>
<path d="M652.87,46.27 L660.47,53.87 M652.87,53.87 L660.47,46.27" stroke="#2a3ea8" stroke-width="1.6" fill="none"/>
<path d="M657.87,44.28 L665.47,51.88 M657.87,51.88 L665.47,44.28" stroke="#2a3ea8" stroke-width="1.6" fill="none"/>
<path d="M662.88,42.36 L670.48,49.96 M662.88,49.96 L670.48,42.36" stroke="#2a3ea8" stroke-width="1.6" fill="none"/>
<path d="M667.89,40.56 L675.49,48.16 M667.89,48.16 L675.49,40.56" stroke="#2a3ea8" stroke-width="1.6" fill="none"/>
<path d="M672.79,38.93 L680.39,46.53 M672.79,46.53 L680.39,38.93" stroke="#2a3ea8" stroke-width="1.6" fill="none"/>
<path d="M408.00,251.04 L408.68,250.43 L409.37,249.81 L410.05,249.20 L410.73,248.59 L411.41,247.98 L412.10,247.37 L412.78,246.75 L413.46,246.14 L414.14,245.53 L414.83,244.92 L415.51,244.31 L416.19,243.69 L416.88,243.08 L417.56,242.47 L418.24,241.86 L418.92,241.25 L419.61,240.63 L420.29,240.02 L420.97,239.41 L421.65,238.80 L422.34,238.19 L423.02,237.57 L423.70,236.96 L424.38,236.35 L425.07,235.74 L425.75,235.12 L426.43,234.51 L427.12,233.90 L427.80,233.29 L428.48,232.68 L429.16,232.06 L429.85,231.45 L430.53,230.84 L431.21,230.23 L431.89,229.62 L432.58,229.01 L433.26,228.39 L433.94,227.78 L434.63,227.17 L435.31,226.56 L435.99,225.95 L436.67,225.33 L437.36,224.72 L438.04,224.11 L438.72,223.50 L439.40,222.89 L440.09,222.27 L440.77,221.66 L441.45,221.05 L442.14,220.44 L442.82,219.83 L443.50,219.22 L444.18,218.60 L444.87,217.99 L445.55,217.38 L446.23,216.77 L446.91,216.16 L447.60,215.54 L448.28,214.93 L448.96,214.32 L449.65,213.71 L450.33,213.10 L451.01,212.49 L451.69,211.87 L452.38,211.26 L453.06,210.65 L453.74,210.04 L454.42,209.43 L455.11,208.82 L455.79,208.20 L456.47,207.59 L457.15,206.98 L457.84,206.37 L458.52,205.76 L459.20,205.15 L459.89,204.54 L460.57,203.92 L461.25,203.31 L461.93,202.70 L462.62,202.09 L463.30,201.48 L463.98,200.87 L464.66,200.26 L465.35,199.64 L466.03,199.03 L466.71,198.42 L467.40,197.81 L468.08,197.20 L468.76,196.59 L469.44,195.98 L470.13,195.37 L470.81,194.75 L471.49,194.14 L472.17,193.53 L472.86,192.92 L473.54,192.31 L474.22,191.70 L474.91,191.09 L475.59,190.48 L476.27,189.87 L476.95,189.26 L477.64,188.65 L478.32,188.03 L479.00,187.42 L479.68,186.81 L480.37,186.20 L481.05,185.59 L481.73,184.98 L482.42,184.37 L483.10,183.76 L483.78,183.15 L484.46,182.54 L485.15,181.93 L485.83,181.32 L486.51,180.71 L487.19,180.10 L487.88,179.49 L488.56,178.88 L489.24,178.27 L489.92,177.66 L490.61,177.05 L491.29,176.44 L491.97,175.83 L492.66,175.22 L493.34,174.61 L494.02,174.00 L494.70,173.39 L495.39,172.78 L496.07,172.17 L496.75,171.56 L497.43,170.95 L498.12,170.34 L498.80,169.73 L499.48,169.12 L500.17,168.51 L500.85,167.91 L501.53,167.30 L502.21,166.69 L502.90,166.08 L503.58,165.47 L504.26,164.86 L504.94,164.25 L505.63,163.65 L506.31,163.04 L506.99,162.43 L507.68,161.82 L508.36,161.21 L509.04,160.61 L509.72,160.00 L510.41,159.39 L511.09,158.78 L511.77,158.17 L512.45,157.57 L513.14,156.96 L513.82,156.35 L514.50,155.75 L515.18,155.14 L515.87,154.53 L516.55,153.93 L517.23,153.32 L517.92,152.71 L518.60,152.11 L519.28,151.50 L519.96,150.90 L520.65,150.29 L521.33,149.69 L522.01,149.08 L522.69,148.48 L523.38,147.87 L524.06,147.27 L524.74,146.66 L525.43,146.06 L526.11,145.45 L526.79,144.85 L527.47,144.25 L528.16,143.64 L528.84,143.04 L529.52,142.44 L530.20,141.83 L530.89,141.23 L531.57,140.63 L532.25,140.03 L532.94,139.42 L533.62,138.82 L534.30,138.22 L534.98,137.62 L535.67,137.02 L536.35,136.42 L537.03,135.82 L537.71,135.22 L538.40,134.62 L539.08,134.02 L539.76,133.42 L540.45,132.82 L541.13,132.22 L541.81,131.63 L542.49,131.03 L543.18,130.43 L543.86,129.84 L544.54,129.24 L545.22,128.64 L545.91,128.05 L546.59,127.45 L547.27,126.86 L547.95,126.26 L548.64,125.67 L549.32,125.08 L550.00,124.48 L550.69,123.89 L551.37,123.30 L552.05,122.71 L552.73,122.12 L553.42,121.53 L554.10,120.94 L554.78,120.35 L555.46,119.76 L556.15,119.17 L556.83,118.58 L557.51,118.00 L558.20,117.41 L558.88,116.82 L559.56,116.24 L560.24,115.66 L560.93,115.07 L561.61,114.49 L562.29,113.91 L562.97,113.33 L563.66,112.74 L564.34,112.16 L565.02,111.59 L565.71,111.01 L566.39,110.43 L567.07,109.85 L567.75,109.28 L568.44,108.70 L569.12,108.13 L569.80,107.55 L570.48,106.98 L571.17,106.41 L571.85,105.84 L572.53,105.27 L573.22,104.70 L573.90,104.14 L574.58,103.57 L575.26,103.01 L575.95,102.44 L576.63,101.88 L577.31,101.32 L577.99,100.76 L578.68,100.20 L579.36,99.64 L580.04,99.08 L580.72,98.53 L581.41,97.97 L582.09,97.42 L582.77,96.87 L583.46,96.32 L584.14,95.77 L584.82,95.22 L585.50,94.68 L586.19,94.14 L586.87,93.59 L587.55,93.05 L588.23,92.51 L588.92,91.98 L589.60,91.44 L590.28,90.91 L590.97,90.37 L591.65,89.84 L592.33,89.31 L593.01,88.79 L593.70,88.26 L594.38,87.74 L595.06,87.22 L595.74,86.70 L596.43,86.18 L597.11,85.66 L597.79,85.15 L598.48,84.64 L599.16,84.13 L599.84,83.62 L600.52,83.12 L601.21,82.62 L601.89,82.12 L602.57,81.62 L603.25,81.12 L603.94,80.63 L604.62,80.14 L605.30,79.65 L605.98,79.17 L606.67,78.68 L607.35,78.20 L608.03,77.72 L608.72,77.25 L609.40,76.78 L610.08,76.30 L610.76,75.84 L611.45,75.37 L612.13,74.91 L612.81,74.45 L613.49,74.00 L614.18,73.54 L614.86,73.09 L615.54,72.64 L616.23,72.20 L616.91,71.76 L617.59,71.32 L618.27,70.88 L618.96,70.45 L619.64,70.02 L620.32,69.59 L621.00,69.17 L621.69,68.75 L622.37,68.34 L623.05,67.92 L623.74,67.51 L624.42,67.10 L625.10,66.70 L625.78,66.30 L626.47,65.90 L627.15,65.51 L627.83,65.12 L628.51,64.73 L629.20,64.35 L629.88,63.97 L630.56,63.59 L631.25,63.22 L631.93,62.85 L632.61,62.48 L633.29,62.12 L633.98,61.76 L634.66,61.40 L635.34,61.05 L636.02,60.70 L636.71,60.35 L637.39,60.01 L638.07,59.67 L638.75,59.34 L639.44,59.00 L640.12,58.67 L640.80,58.35 L641.49,58.03 L642.17,57.71 L642.85,57.39 L643.53,57.08 L644.22,56.78 L644.90,56.47 L645.58,56.17 L646.26,55.87 L646.95,55.58 L647.63,55.29 L648.31,55.00 L649.00,54.71 L649.68,54.43 L650.36,54.15 L651.04,53.88 L651.73,53.61 L652.41,53.34 L653.09,53.07 L653.77,52.81 L654.46,52.55 L655.14,52.30 L655.82,52.04 L656.51,51.79 L657.19,51.55 L657.87,51.30 L658.55,51.06 L659.24,50.82 L659.92,50.59 L660.60,50.36 L661.28,50.13 L661.97,49.90 L662.65,49.68 L663.33,49.46 L664.02,49.24 L664.70,49.02 L665.38,48.81 L666.06,48.60 L666.75,48.39 L667.43,48.19 L668.11,47.99 L668.79,47.79 L669.48,47.59 L670.16,47.39 L670.84,47.20 L671.52,47.01 L672.21,46.82 L672.89,46.64 L673.57,46.46 L674.26,46.27 L674.94,46.10 L675.62,45.92 L676.30,45.75 L676.99,45.57 L677.67,45.40 L678.35,45.23 L679.03,45.07 L679.72,44.90 L680.40,44.74" stroke="#2a3ea8" stroke-width="2.2" fill="none" stroke-dasharray="14.0 3.5 2.2 3.5"/>
<path d="M408.00,241.51 L408.68,240.90 L409.37,240.28 L410.05,239.67 L410.73,239.05 L411.41,238.44 L412.10,237.82 L412.78,237.21 L413.46,236.59 L414.14,235.98 L414.83,235.37 L415.51,234.75 L416.19,234.14 L416.88,233.52 L417.56,232.91 L418.24,232.29 L418.92,231.68 L419.61,231.06 L420.29,230.45 L420.97,229.84 L421.65,229.22 L422.34,228.61 L423.02,227.99 L423.70,227.38 L424.38,226.76 L425.07,226.15 L425.75,225.53 L426.43,224.92 L427.12,224.31 L427.80,223.69 L428.48,223.08 L429.16,222.46 L429.85,221.85 L430.53,221.23 L431.21,220.62 L431.89,220.01 L432.58,219.39 L433.26,218.78 L433.94,218.16 L434.63,217.55 L435.31,216.93 L435.99,216.32 L436.67,215.71 L437.36,215.09 L438.04,214.48 L438.72,213.86 L439.40,213.25 L440.09,212.64 L440.77,212.02 L441.45,211.41 L442.14,210.79 L442.82,210.18 L443.50,209.57 L444.18,208.95 L444.87,208.34 L445.55,207.72 L446.23,207.11 L446.91,206.50 L447.60,205.88 L448.28,205.27 L448.96,204.66 L449.65,204.04 L450.33,203.43 L451.01,202.81 L451.69,202.20 L452.38,201.59 L453.06,200.97 L453.74,200.36 L454.42,199.75 L455.11,199.13 L455.79,198.52 L456.47,197.91 L457.15,197.29 L457.84,196.68 L458.52,196.07 L459.20,195.45 L459.89,194.84 L460.57,194.23 L461.25,193.61 L461.93,193.00 L462.62,192.39 L463.30,191.77 L463.98,191.16 L464.66,190.55 L465.35,189.94 L466.03,189.32 L466.71,188.71 L467.40,188.10 L468.08,187.48 L468.76,186.87 L469.44,186.26 L470.13,185.65 L470.81,185.03 L471.49,184.42 L472.17,183.81 L472.86,183.20 L473.54,182.59 L474.22,181.97 L474.91,181.36 L475.59,180.75 L476.27,180.14 L476.95,179.53 L477.64,178.91 L478.32,178.30 L479.00,177.69 L479.68,177.08 L480.37,176.47 L481.05,175.86 L481.73,175.25 L482.42,174.63 L483.10,174.02 L483.78,173.41 L484.46,172.80 L485.15,172.19 L485.83,171.58 L486.51,170.97 L487.19,170.36 L487.88,169.75 L488.56,169.14 L489.24,168.53 L489.92,167.92 L490.61,167.31 L491.29,166.70 L491.97,166.09 L492.66,165.48 L493.34,164.87 L494.02,164.26 L494.70,163.65 L495.39,163.05 L496.07,162.44 L496.75,161.83 L497.43,161.22 L498.12,160.61 L498.80,160.00 L499.48,159.40 L500.17,158.79 L500.85,158.18 L501.53,157.57 L502.21,156.97 L502.90,156.36 L503.58,155.75 L504.26,155.15 L504.94,154.54 L505.63,153.94 L506.31,153.33 L506.99,152.73 L507.68,152.12 L508.36,151.52 L509.04,150.91 L509.72,150.31 L510.41,149.70 L511.09,149.10 L511.77,148.50 L512.45,147.89 L513.14,147.29 L513.82,146.69 L514.50,146.08 L515.18,145.48 L515.87,144.88 L516.55,144.28 L517.23,143.68 L517.92,143.08 L518.60,142.48 L519.28,141.88 L519.96,141.28 L520.65,140.68 L521.33,140.08 L522.01,139.48 L522.69,138.89 L523.38,138.29 L524.06,137.69 L524.74,137.10 L525.43,136.50 L526.11,135.90 L526.79,135.31 L527.47,134.72 L528.16,134.12 L528.84,133.53 L529.52,132.94 L530.20,132.34 L530.89,131.75 L531.57,131.16 L532.25,130.57 L532.94,129.98 L533.62,129.39 L534.30,128.80 L534.98,128.22 L535.67,127.63 L536.35,127.04 L537.03,126.46 L537.71,125.87 L538.40,125.29 L539.08,124.71 L539.76,124.12 L540.45,123.54 L541.13,122.96 L541.81,122.38 L542.49,121.80 L543.18,121.22 L543.86,120.65 L544.54,120.07 L545.22,119.49 L545.91,118.92 L546.59,118.35 L547.27,117.77 L547.95,117.20 L548.64,116.63 L549.32,116.06 L550.00,115.49 L550.69,114.93 L551.37,114.36 L552.05,113.80 L552.73,113.23 L553.42,112.67 L554.10,112.11 L554.78,111.55 L555.46,110.99 L556.15,110.43 L556.83,109.88 L557.51,109.32 L558.20,108.77 L558.88,108.22 L559.56,107.67 L560.24,107.12 L560.93,106.58 L561.61,106.03 L562.29,105.49 L562.97,104.95 L563.66,104.41 L564.34,103.87 L565.02,103.33 L565.71,102.80 L566.39,102.26 L567.07,101.73 L567.75,101.20 L568.44,100.67 L569.12,100.15 L569.80,99.63 L570.48,99.10 L571.17,98.58 L571.85,98.07 L572.53,97.55 L573.22,97.04 L573.90,96.53 L574.58,96.02 L575.26,95.51 L575.95,95.01 L576.63,94.51 L577.31,94.01 L577.99,93.51 L578.68,93.02 L579.36,92.52 L580.04,92.03 L580.72,91.55 L581.41,91.06 L582.09,90.58 L582.77,90.10 L583.46,89.63 L584.14,89.15 L584.82,88.68 L585.50,88.21 L586.19,87.75 L586.87,87.29 L587.55,86.83 L588.23,86.37 L588.92,85.92 L589.60,85.47 L590.28,85.02 L590.97,84.57 L591.65,84.13 L592.33,83.69 L593.01,83.26 L593.70,82.83 L594.38,82.40 L595.06,81.97 L595.74,81.55 L596.43,81.13 L597.11,80.71 L597.79,80.30 L598.48,79.89 L599.16,79.49 L599.84,79.08 L600.52,78.68 L601.21,78.29 L601.89,77.90 L602.57,77.51 L603.25,77.12 L603.94,76.74 L604.62,76.36 L605.30,75.99 L605.98,75.61 L606.67,75.25 L607.35,74.88 L608.03,74.52 L608.72,74.16 L609.40,73.81 L610.08,73.46 L610.76,73.11 L611.45,72.77 L612.13,72.43 L612.81,72.09 L613.49,71.76 L614.18,71.43 L614.86,71.10 L615.54,70.78 L616.23,70.46 L616.91,70.14 L617.59,69.83 L618.27,69.52 L618.96,69.22 L619.64,68.92 L620.32,68.62 L621.00,68.32 L621.69,68.03 L622.37,67.74 L623.05,67.46 L623.74,67.18 L624.42,66.90 L625.10,66.62 L625.78,66.35 L626.47,66.08 L627.15,65.82 L627.83,65.56 L628.51,65.30 L629.20,65.04 L629.88,64.79 L630.56,64.54 L631.25,64.29 L631.93,64.05 L632.61,63.81 L633.29,63.57 L633.98,63.34 L634.66,63.10 L635.34,62.87 L636.02,62.65 L636.71,62.43 L637.39,62.20 L638.07,61.99 L638.75,61.77 L639.44,61.56 L640.12,61.35 L640.80,61.14 L641.49,60.94 L642.17,60.74 L642.85,60.54 L643.53,60.34 L644.22,60.14 L644.90,59.95 L645.58,59.76 L646.26,59.57 L646.95,59.39 L647.63,59.21 L648.31,59.03 L649.00,58.85 L649.68,58.67 L650.36,58.50 L651.04,58.32 L651.73,58.15 L652.41,57.99 L653.09,57.82 L653.77,57.66 L654.46,57.49 L655.14,57.33 L655.82,57.17 L656.51,57.02 L657.19,56.86 L657.87,56.71 L658.55,56.56 L659.24,56.41 L659.92,56.26 L660.60,56.12 L661.28,55.97 L661.97,55.83 L662.65,55.69 L663.33,55.55 L664.02,55.41 L664.70,55.27 L665.38,55.14 L666.06,55.00 L666.75,54.87 L667.43,54.74 L668.11,54.61 L668.79,54.48 L669.48,54.35 L670.16,54.23 L670.84,54.10 L671.52,53.98 L672.21,53.86 L672.89,53.74 L673.57,53.62 L674.26,53.50 L674.94,53.38 L675.62,53.26 L676.30,53.15 L676.99,53.03 L677.67,52.92 L678.35,52.81 L679.03,52.70 L679.72,52.58 L680.40,52.48" stroke="#acb722" stroke-width="2.2" fill="none" stroke-dasharray="14.0 3.5 2.2 3.5"/>
<path d="M408.00,223.54 L408.68,222.93 L409.37,222.32 L410.05,221.71 L410.73,221.10 L411.41,220.49 L412.10,219.88 L412.78,219.27 L413.46,218.67 L414.14,218.06 L414.83,217.45 L415.51,216.84 L416.19,216.23 L416.88,215.62 L417.56,215.01 L418.24,214.41 L418.92,213.80 L419.61,213.19 L420.29,212.58 L420.97,211.97 L421.65,211.37 L422.34,210.76 L423.02,210.15 L423.70,209.54 L424.38,208.93 L425.07,208.33 L425.75,207.72 L426.43,207.11 L427.12,206.51 L427.80,205.90 L428.48,205.29 L429.16,204.69 L429.85,204.08 L430.53,203.47 L431.21,202.87 L431.89,202.26 L432.58,201.65 L433.26,201.05 L433.94,200.44 L434.63,199.83 L435.31,199.23 L435.99,198.62 L436.67,198.02 L437.36,197.41 L438.04,196.81 L438.72,196.20 L439.40,195.60 L440.09,194.99 L440.77,194.39 L441.45,193.79 L442.14,193.18 L442.82,192.58 L443.50,191.97 L444.18,191.37 L444.87,190.77 L445.55,190.16 L446.23,189.56 L446.91,188.96 L447.60,188.36 L448.28,187.75 L448.96,187.15 L449.65,186.55 L450.33,185.95 L451.01,185.35 L451.69,184.75 L452.38,184.15 L453.06,183.54 L453.74,182.94 L454.42,182.34 L455.11,181.74 L455.79,181.15 L456.47,180.55 L457.15,179.95 L457.84,179.35 L458.52,178.75 L459.20,178.15 L459.89,177.56 L460.57,176.96 L461.25,176.36 L461.93,175.76 L462.62,175.17 L463.30,174.57 L463.98,173.98 L464.66,173.38 L465.35,172.79 L466.03,172.19 L466.71,171.60 L467.40,171.01 L468.08,170.41 L468.76,169.82 L469.44,169.23 L470.13,168.64 L470.81,168.05 L471.49,167.46 L472.17,166.87 L472.86,166.28 L473.54,165.69 L474.22,165.10 L474.91,164.51 L475.59,163.93 L476.27,163.34 L476.95,162.75 L477.64,162.17 L478.32,161.58 L479.00,161.00 L479.68,160.42 L480.37,159.83 L481.05,159.25 L481.73,158.67 L482.42,158.09 L483.10,157.51 L483.78,156.93 L484.46,156.35 L485.15,155.78 L485.83,155.20 L486.51,154.62 L487.19,154.05 L487.88,153.47 L488.56,152.90 L489.24,152.33 L489.92,151.76 L490.61,151.19 L491.29,150.62 L491.97,150.05 L492.66,149.48 L493.34,148.91 L494.02,148.35 L494.70,147.78 L495.39,147.22 L496.07,146.66 L496.75,146.09 L497.43,145.53 L498.12,144.98 L498.80,144.42 L499.48,143.86 L500.17,143.31 L500.85,142.75 L501.53,142.20 L502.21,141.65 L502.90,141.10 L503.58,140.55 L504.26,140.00 L504.94,139.45 L505.63,138.91 L506.31,138.37 L506.99,137.82 L507.68,137.28 L508.36,136.75 L509.04,136.21 L509.72,135.67 L510.41,135.14 L511.09,134.61 L511.77,134.08 L512.45,133.55 L513.14,133.02 L513.82,132.49 L514.50,131.97 L515.18,131.45 L515.87,130.93 L516.55,130.41 L517.23,129.89 L517.92,129.38 L518.60,128.87 L519.28,128.36 L519.96,127.85 L520.65,127.34 L521.33,126.84 L522.01,126.33 L522.69,125.83 L523.38,125.34 L524.06,124.84 L524.74,124.35 L525.43,123.85 L526.11,123.37 L526.79,122.88 L527.47,122.39 L528.16,121.91 L528.84,121.43 L529.52,120.95 L530.20,120.48 L530.89,120.00 L531.57,119.53 L532.25,119.06 L532.94,118.60 L533.62,118.14 L534.30,117.67 L534.98,117.22 L535.67,116.76 L536.35,116.31 L537.03,115.86 L537.71,115.41 L538.40,114.96 L539.08,114.52 L539.76,114.08 L540.45,113.64 L541.13,113.21 L541.81,112.77 L542.49,112.34 L543.18,111.92 L543.86,111.49 L544.54,111.07 L545.22,110.65 L545.91,110.24 L546.59,109.82 L547.27,109.41 L547.95,109.01 L548.64,108.60 L549.32,108.20 L550.00,107.80 L550.69,107.40 L551.37,107.01 L552.05,106.62 L552.73,106.23 L553.42,105.84 L554.10,105.46 L554.78,105.08 L555.46,104.70 L556.15,104.33 L556.83,103.96 L557.51,103.59 L558.20,103.22 L558.88,102.86 L559.56,102.50 L560.24,102.14 L560.93,101.78 L561.61,101.43 L562.29,101.08 L562.97,100.73 L563.66,100.39 L564.34,100.04 L565.02,99.70 L565.71,99.37 L566.39,99.03 L567.07,98.70 L567.75,98.37 L568.44,98.05 L569.12,97.72 L569.80,97.40 L570.48,97.08 L571.17,96.76 L571.85,96.45 L572.53,96.14 L573.22,95.83 L573.90,95.52 L574.58,95.22 L575.26,94.91 L575.95,94.61 L576.63,94.32 L577.31,94.02 L577.99,93.73 L578.68,93.44 L579.36,93.15 L580.04,92.86 L580.72,92.58 L581.41,92.29 L582.09,92.01 L582.77,91.74 L583.46,91.46 L584.14,91.18 L584.82,90.91 L585.50,90.64 L586.19,90.37 L586.87,90.11 L587.55,89.84 L588.23,89.58 L588.92,89.32 L589.60,89.06 L590.28,88.81 L590.97,88.55 L591.65,88.30 L592.33,88.05 L593.01,87.80 L593.70,87.55 L594.38,87.30 L595.06,87.06 L595.74,86.82 L596.43,86.57 L597.11,86.33 L597.79,86.10 L598.48,85.86 L599.16,85.62 L599.84,85.39 L600.52,85.16 L601.21,84.93 L601.89,84.70 L602.57,84.47 L603.25,84.24 L603.94,84.02 L604.62,83.79 L605.30,83.57 L605.98,83.35 L606.67,83.13 L607.35,82.91 L608.03,82.69 L608.72,82.48 L609.40,82.26 L610.08,82.05 L610.76,81.83 L611.45,81.62 L612.13,81.41 L612.81,81.20 L613.49,80.99 L614.18,80.79 L614.86,80.58 L615.54,80.38 L616.23,80.17 L616.91,79.97 L617.59,79.77 L618.27,79.56 L618.96,79.36 L619.64,79.16 L620.32,78.97 L621.00,78.77 L621.69,78.57 L622.37,78.38 L623.05,78.18 L623.74,77.99 L624.42,77.79 L625.10,77.60 L625.78,77.41 L626.47,77.22 L627.15,77.03 L627.83,76.84 L628.51,76.65 L629.20,76.46 L629.88,76.28 L630.56,76.09 L631.25,75.90 L631.93,75.72 L632.61,75.53 L633.29,75.35 L633.98,75.17 L634.66,74.98 L635.34,74.80 L636.02,74.62 L636.71,74.44 L637.39,74.26 L638.07,74.08 L638.75,73.90 L639.44,73.72 L640.12,73.55 L640.80,73.37 L641.49,73.19 L642.17,73.02 L642.85,72.84 L643.53,72.67 L644.22,72.49 L644.90,72.32 L645.58,72.14 L646.26,71.97 L646.95,71.80 L647.63,71.63 L648.31,71.45 L649.00,71.28 L649.68,71.11 L650.36,70.94 L651.04,70.77 L651.73,70.60 L652.41,70.43 L653.09,70.26 L653.77,70.10 L654.46,69.93 L655.14,69.76 L655.82,69.59 L656.51,69.43 L657.19,69.26 L657.87,69.09 L658.55,68.93 L659.24,68.76 L659.92,68.60 L660.60,68.43 L661.28,68.27 L661.97,68.10 L662.65,67.94 L663.33,67.78 L664.02,67.61 L664.70,67.45 L665.38,67.29 L666.06,67.12 L666.75,66.96 L667.43,66.80 L668.11,66.64 L668.79,66.48 L669.48,66.32 L670.16,66.16 L670.84,66.00 L671.52,65.84 L672.21,65.68 L672.89,65.52 L673.57,65.36 L674.26,65.20 L674.94,65.04 L675.62,64.88 L676.30,64.72 L676.99,64.56 L677.67,64.41 L678.35,64.25 L679.03,64.09 L679.72,63.93 L680.40,63.78" stroke="#e8222b" stroke-width="2.2" fill="none" stroke-dasharray="14.0 3.5 2.2 3.5"/>
<path d="M408.00,197.33 L408.68,196.73 L409.37,196.13 L410.05,195.54 L410.73,194.94 L411.41,194.35 L412.10,193.75 L412.78,193.16 L413.46,192.57 L414.14,191.98 L414.83,191.38 L415.51,190.79 L416.19,190.20 L416.88,189.61 L417.56,189.02 L418.24,188.43 L418.92,187.85 L419.61,187.26 L420.29,186.67 L420.97,186.09 L421.65,185.50 L422.34,184.92 L423.02,184.33 L423.70,183.75 L424.38,183.17 L425.07,182.59 L425.75,182.01 L426.43,181.43 L427.12,180.85 L427.80,180.27 L428.48,179.69 L429.16,179.12 L429.85,178.54 L430.53,177.97 L431.21,177.39 L431.89,176.82 L432.58,176.25 L433.26,175.68 L433.94,175.11 L434.63,174.54 L435.31,173.98 L435.99,173.41 L436.67,172.85 L437.36,172.28 L438.04,171.72 L438.72,171.16 L439.40,170.60 L440.09,170.04 L440.77,169.48 L441.45,168.93 L442.14,168.37 L442.82,167.82 L443.50,167.27 L444.18,166.72 L444.87,166.17 L445.55,165.63 L446.23,165.08 L446.91,164.54 L447.60,163.99 L448.28,163.45 L448.96,162.91 L449.65,162.38 L450.33,161.84 L451.01,161.31 L451.69,160.78 L452.38,160.25 L453.06,159.72 L453.74,159.19 L454.42,158.67 L455.11,158.14 L455.79,157.62 L456.47,157.10 L457.15,156.59 L457.84,156.07 L458.52,155.56 L459.20,155.05 L459.89,154.54 L460.57,154.03 L461.25,153.53 L461.93,153.03 L462.62,152.53 L463.30,152.03 L463.98,151.54 L464.66,151.04 L465.35,150.55 L466.03,150.06 L466.71,149.58 L467.40,149.10 L468.08,148.61 L468.76,148.14 L469.44,147.66 L470.13,147.19 L470.81,146.72 L471.49,146.25 L472.17,145.78 L472.86,145.32 L473.54,144.86 L474.22,144.40 L474.91,143.95 L475.59,143.50 L476.27,143.05 L476.95,142.60 L477.64,142.16 L478.32,141.72 L479.00,141.28 L479.68,140.85 L480.37,140.41 L481.05,139.98 L481.73,139.56 L482.42,139.13 L483.10,138.71 L483.78,138.30 L484.46,137.88 L485.15,137.47 L485.83,137.06 L486.51,136.66 L487.19,136.25 L487.88,135.85 L488.56,135.46 L489.24,135.06 L489.92,134.67 L490.61,134.28 L491.29,133.90 L491.97,133.52 L492.66,133.14 L493.34,132.76 L494.02,132.39 L494.70,132.02 L495.39,131.65 L496.07,131.29 L496.75,130.93 L497.43,130.57 L498.12,130.21 L498.80,129.86 L499.48,129.51 L500.17,129.16 L500.85,128.82 L501.53,128.48 L502.21,128.14 L502.90,127.81 L503.58,127.47 L504.26,127.15 L504.94,126.82 L505.63,126.49 L506.31,126.17 L506.99,125.86 L507.68,125.54 L508.36,125.23 L509.04,124.92 L509.72,124.61 L510.41,124.31 L511.09,124.00 L511.77,123.70 L512.45,123.41 L513.14,123.11 L513.82,122.82 L514.50,122.53 L515.18,122.24 L515.87,121.96 L516.55,121.68 L517.23,121.40 L517.92,121.12 L518.60,120.85 L519.28,120.57 L519.96,120.30 L520.65,120.04 L521.33,119.77 L522.01,119.51 L522.69,119.25 L523.38,118.99 L524.06,118.73 L524.74,118.48 L525.43,118.22 L526.11,117.97 L526.79,117.72 L527.47,117.48 L528.16,117.23 L528.84,116.99 L529.52,116.75 L530.20,116.51 L530.89,116.27 L531.57,116.04 L532.25,115.81 L532.94,115.57 L533.62,115.34 L534.30,115.12 L534.98,114.89 L535.67,114.67 L536.35,114.44 L537.03,114.22 L537.71,114.00 L538.40,113.78 L539.08,113.57 L539.76,113.35 L540.45,113.14 L541.13,112.93 L541.81,112.72 L542.49,112.51 L543.18,112.30 L543.86,112.09 L544.54,111.89 L545.22,111.69 L545.91,111.48 L546.59,111.28 L547.27,111.08 L547.95,110.88 L548.64,110.69 L549.32,110.49 L550.00,110.30 L550.69,110.10 L551.37,109.91 L552.05,109.72 L552.73,109.53 L553.42,109.34 L554.10,109.15 L554.78,108.97 L555.46,108.78 L556.15,108.59 L556.83,108.41 L557.51,108.23 L558.20,108.05 L558.88,107.86 L559.56,107.68 L560.24,107.51 L560.93,107.33 L561.61,107.15 L562.29,106.97 L562.97,106.80 L563.66,106.62 L564.34,106.45 L565.02,106.28 L565.71,106.10 L566.39,105.93 L567.07,105.76 L567.75,105.59 L568.44,105.42 L569.12,105.25 L569.80,105.09 L570.48,104.92 L571.17,104.75 L571.85,104.59 L572.53,104.42 L573.22,104.26 L573.90,104.09 L574.58,103.93 L575.26,103.77 L575.95,103.61 L576.63,103.44 L577.31,103.28 L577.99,103.12 L578.68,102.96 L579.36,102.80 L580.04,102.65 L580.72,102.49 L581.41,102.33 L582.09,102.17 L582.77,102.02 L583.46,101.86 L584.14,101.70 L584.82,101.55 L585.50,101.40 L586.19,101.24 L586.87,101.09 L587.55,100.93 L588.23,100.78 L588.92,100.63 L589.60,100.48 L590.28,100.33 L590.97,100.17 L591.65,100.02 L592.33,99.87 L593.01,99.72 L593.70,99.57 L594.38,99.42 L595.06,99.28 L595.74,99.13 L596.43,98.98 L597.11,98.83 L597.79,98.68 L598.48,98.54 L599.16,98.39 L599.84,98.24 L600.52,98.10 L601.21,97.95 L601.89,97.81 L602.57,97.66 L603.25,97.52 L603.94,97.37 L604.62,97.23 L605.30,97.08 L605.98,96.94 L606.67,96.80 L607.35,96.65 L608.03,96.51 L608.72,96.37 L609.40,96.23 L610.08,96.08 L610.76,95.94 L611.45,95.80 L612.13,95.66 L612.81,95.52 L613.49,95.38 L614.18,95.23 L614.86,95.09 L615.54,94.95 L616.23,94.81 L616.91,94.67 L617.59,94.53 L618.27,94.39 L618.96,94.25 L619.64,94.12 L620.32,93.98 L621.00,93.84 L621.69,93.70 L622.37,93.56 L623.05,93.42 L623.74,93.28 L624.42,93.15 L625.10,93.01 L625.78,92.87 L626.47,92.73 L627.15,92.60 L627.83,92.46 L628.51,92.32 L629.20,92.19 L629.88,92.05 L630.56,91.91 L631.25,91.78 L631.93,91.64 L632.61,91.51 L633.29,91.37 L633.98,91.23 L634.66,91.10 L635.34,90.96 L636.02,90.83 L636.71,90.69 L637.39,90.56 L638.07,90.42 L638.75,90.29 L639.44,90.15 L640.12,90.02 L640.80,89.88 L641.49,89.75 L642.17,89.62 L642.85,89.48 L643.53,89.35 L644.22,89.21 L644.90,89.08 L645.58,88.95 L646.26,88.81 L646.95,88.68 L647.63,88.55 L648.31,88.41 L649.00,88.28 L649.68,88.15 L650.36,88.01 L651.04,87.88 L651.73,87.75 L652.41,87.62 L653.09,87.48 L653.77,87.35 L654.46,87.22 L655.14,87.09 L655.82,86.95 L656.51,86.82 L657.19,86.69 L657.87,86.56 L658.55,86.43 L659.24,86.29 L659.92,86.16 L660.60,86.03 L661.28,85.90 L661.97,85.77 L662.65,85.64 L663.33,85.50 L664.02,85.37 L664.70,85.24 L665.38,85.11 L666.06,84.98 L666.75,84.85 L667.43,84.72 L668.11,84.59 L668.79,84.46 L669.48,84.32 L670.16,84.19 L670.84,84.06 L671.52,83.93 L672.21,83.80 L672.89,83.67 L673.57,83.54 L674.26,83.41 L674.94,83.28 L675.62,83.15 L676.30,83.02 L676.99,82.89 L677.67,82.76 L678.35,82.63 L679.03,82.50 L679.72,82.37 L680.40,82.24" stroke="#16782f" stroke-width="2.2" fill="none" stroke-dasharray="14.0 3.5 2.2 3.5"/>
<path d="M408.00,178.23 L408.68,177.85 L409.37,177.47 L410.05,177.10 L410.73,176.73 L411.41,176.37 L412.10,176.00 L412.78,175.64 L413.46,175.29 L414.14,174.93 L414.83,174.58 L415.51,174.24 L416.19,173.89 L416.88,173.55 L417.56,173.21 L418.24,172.88 L418.92,172.54 L419.61,172.21 L420.29,171.89 L420.97,171.56 L421.65,171.24 L422.34,170.93 L423.02,170.61 L423.70,170.30 L424.38,169.99 L425.07,169.69 L425.75,169.38 L426.43,169.08 L427.12,168.79 L427.80,168.49 L428.48,168.20 L429.16,167.91 L429.85,167.63 L430.53,167.34 L431.21,167.06 L431.89,166.78 L432.58,166.51 L433.26,166.23 L433.94,165.96 L434.63,165.70 L435.31,165.43 L435.99,165.17 L436.67,164.91 L437.36,164.65 L438.04,164.40 L438.72,164.14 L439.40,163.89 L440.09,163.64 L440.77,163.40 L441.45,163.15 L442.14,162.91 L442.82,162.67 L443.50,162.44 L444.18,162.20 L444.87,161.97 L445.55,161.74 L446.23,161.51 L446.91,161.28 L447.60,161.06 L448.28,160.84 L448.96,160.62 L449.65,160.40 L450.33,160.18 L451.01,159.97 L451.69,159.76 L452.38,159.54 L453.06,159.33 L453.74,159.13 L454.42,158.92 L455.11,158.72 L455.79,158.52 L456.47,158.32 L457.15,158.12 L457.84,157.92 L458.52,157.72 L459.20,157.53 L459.89,157.34 L460.57,157.15 L461.25,156.96 L461.93,156.77 L462.62,156.58 L463.30,156.40 L463.98,156.21 L464.66,156.03 L465.35,155.85 L466.03,155.67 L466.71,155.49 L467.40,155.31 L468.08,155.14 L468.76,154.96 L469.44,154.79 L470.13,154.62 L470.81,154.45 L471.49,154.28 L472.17,154.11 L472.86,153.94 L473.54,153.77 L474.22,153.61 L474.91,153.44 L475.59,153.28 L476.27,153.12 L476.95,152.95 L477.64,152.79 L478.32,152.63 L479.00,152.48 L479.68,152.32 L480.37,152.16 L481.05,152.01 L481.73,151.85 L482.42,151.70 L483.10,151.54 L483.78,151.39 L484.46,151.24 L485.15,151.09 L485.83,150.94 L486.51,150.79 L487.19,150.64 L487.88,150.49 L488.56,150.34 L489.24,150.20 L489.92,150.05 L490.61,149.91 L491.29,149.76 L491.97,149.62 L492.66,149.48 L493.34,149.33 L494.02,149.19 L494.70,149.05 L495.39,148.91 L496.07,148.77 L496.75,148.63 L497.43,148.49 L498.12,148.35 L498.80,148.22 L499.48,148.08 L500.17,147.94 L500.85,147.81 L501.53,147.67 L502.21,147.54 L502.90,147.40 L503.58,147.27 L504.26,147.13 L504.94,147.00 L505.63,146.87 L506.31,146.74 L506.99,146.60 L507.68,146.47 L508.36,146.34 L509.04,146.21 L509.72,146.08 L510.41,145.95 L511.09,145.82 L511.77,145.69 L512.45,145.56 L513.14,145.44 L513.82,145.31 L514.50,145.18 L515.18,145.05 L515.87,144.93 L516.55,144.80 L517.23,144.67 L517.92,144.55 L518.60,144.42 L519.28,144.30 L519.96,144.17 L520.65,144.05 L521.33,143.92 L522.01,143.80 L522.69,143.68 L523.38,143.55 L524.06,143.43 L524.74,143.31 L525.43,143.18 L526.11,143.06 L526.79,142.94 L527.47,142.82 L528.16,142.70 L528.84,142.58 L529.52,142.46 L530.20,142.33 L530.89,142.21 L531.57,142.09 L532.25,141.97 L532.94,141.85 L533.62,141.73 L534.30,141.61 L534.98,141.50 L535.67,141.38 L536.35,141.26 L537.03,141.14 L537.71,141.02 L538.40,140.90 L539.08,140.78 L539.76,140.67 L540.45,140.55 L541.13,140.43 L541.81,140.31 L542.49,140.20 L543.18,140.08 L543.86,139.96 L544.54,139.85 L545.22,139.73 L545.91,139.61 L546.59,139.50 L547.27,139.38 L547.95,139.27 L548.64,139.15 L549.32,139.03 L550.00,138.92 L550.69,138.80 L551.37,138.69 L552.05,138.57 L552.73,138.46 L553.42,138.34 L554.10,138.23 L554.78,138.12 L555.46,138.00 L556.15,137.89 L556.83,137.77 L557.51,137.66 L558.20,137.54 L558.88,137.43 L559.56,137.32 L560.24,137.20 L560.93,137.09 L561.61,136.98 L562.29,136.86 L562.97,136.75 L563.66,136.64 L564.34,136.53 L565.02,136.41 L565.71,136.30 L566.39,136.19 L567.07,136.08 L567.75,135.96 L568.44,135.85 L569.12,135.74 L569.80,135.63 L570.48,135.51 L571.17,135.40 L571.85,135.29 L572.53,135.18 L573.22,135.07 L573.90,134.96 L574.58,134.84 L575.26,134.73 L575.95,134.62 L576.63,134.51 L577.31,134.40 L577.99,134.29 L578.68,134.18 L579.36,134.07 L580.04,133.95 L580.72,133.84 L581.41,133.73 L582.09,133.62 L582.77,133.51 L583.46,133.40 L584.14,133.29 L584.82,133.18 L585.50,133.07 L586.19,132.96 L586.87,132.85 L587.55,132.74 L588.23,132.63 L588.92,132.52 L589.60,132.41 L590.28,132.30 L590.97,132.19 L591.65,132.08 L592.33,131.97 L593.01,131.86 L593.70,131.75 L594.38,131.64 L595.06,131.53 L595.74,131.42 L596.43,131.31 L597.11,131.20 L597.79,131.09 L598.48,130.98 L599.16,130.87 L599.84,130.77 L600.52,130.66 L601.21,130.55 L601.89,130.44 L602.57,130.33 L603.25,130.22 L603.94,130.11 L604.62,130.00 L605.30,129.89 L605.98,129.78 L606.67,129.68 L607.35,129.57 L608.03,129.46 L608.72,129.35 L609.40,129.24 L610.08,129.13 L610.76,129.02 L611.45,128.91 L612.13,128.81 L612.81,128.70 L613.49,128.59 L614.18,128.48 L614.86,128.37 L615.54,128.26 L616.23,128.16 L616.91,128.05 L617.59,127.94 L618.27,127.83 L618.96,127.72 L619.64,127.61 L620.32,127.51 L621.00,127.40 L621.69,127.29 L622.37,127.18 L623.05,127.07 L623.74,126.97 L624.42,126.86 L625.10,126.75 L625.78,126.64 L626.47,126.53 L627.15,126.43 L627.83,126.32 L628.51,126.21 L629.20,126.10 L629.88,125.99 L630.56,125.89 L631.25,125.78 L631.93,125.67 L632.61,125.56 L633.29,125.46 L633.98,125.35 L634.66,125.24 L635.34,125.13 L636.02,125.03 L636.71,124.92 L637.39,124.81 L638.07,124.70 L638.75,124.60 L639.44,124.49 L640.12,124.38 L640.80,124.27 L641.49,124.17 L642.17,124.06 L642.85,123.95 L643.53,123.84 L644.22,123.74 L644.90,123.63 L645.58,123.52 L646.26,123.41 L646.95,123.31 L647.63,123.20 L648.31,123.09 L649.00,122.99 L649.68,122.88 L650.36,122.77 L651.04,122.66 L651.73,122.56 L652.41,122.45 L653.09,122.34 L653.77,122.24 L654.46,122.13 L655.14,122.02 L655.82,121.91 L656.51,121.81 L657.19,121.70 L657.87,121.59 L658.55,121.49 L659.24,121.38 L659.92,121.27 L660.60,121.16 L661.28,121.06 L661.97,120.95 L662.65,120.84 L663.33,120.74 L664.02,120.63 L664.70,120.52 L665.38,120.42 L666.06,120.31 L666.75,120.20 L667.43,120.10 L668.11,119.99 L668.79,119.88 L669.48,119.78 L670.16,119.67 L670.84,119.56 L671.52,119.45 L672.21,119.35 L672.89,119.24 L673.57,119.13 L674.26,119.03 L674.94,118.92 L675.62,118.81 L676.30,118.71 L676.99,118.60 L677.67,118.49 L678.35,118.39 L679.03,118.28 L679.72,118.17 L680.40,118.07" stroke="#000000" stroke-width="2.2" fill="none" stroke-dasharray="14.0 3.5 2.2 3.5"/>
</g>
<g clip-path="url(#clipD)">
<path d="M433.05,331.92 L476.05,385.63 L530.18,442.74 L561.11,481.27 L591.12,510.05 L616.79,527.72 L643.08,534.30" stroke="#1f73b6" stroke-width="2.2" fill="none" stroke-linejoin="round"/>
<rect x="428.05" y="326.92" width="10" height="10" fill="#1f73b6"/>
<rect x="471.05" y="380.63" width="10" height="10" fill="#1f73b6"/>
<rect x="525.18" y="437.74" width="10" height="10" fill="#1f73b6"/>
<rect x="556.11" y="476.27" width="10" height="10" fill="#1f73b6"/>
<rect x="586.12" y="505.05" width="10" height="10" fill="#1f73b6"/>
<rect x="611.79" y="522.72" width="10" height="10" fill="#1f73b6"/>
<rect x="638.08" y="529.30" width="10" height="10" fill="#1f73b6"/>
<circle cx="569.47" cy="498.26" r="5.9" fill="#e8222b"/>
<path d="M420.37,359.34 L481.93,430.95 L544.10,511.41 L605.96,534.30 L667.52,543.00" stroke="#f3812e" stroke-width="2.2" fill="none" stroke-linejoin="round"/>
<rect x="415.37" y="354.34" width="10" height="10" fill="#f3812e"/>
<rect x="476.93" y="425.95" width="10" height="10" fill="#f3812e"/>
<rect x="539.10" y="506.41" width="10" height="10" fill="#f3812e"/>
<rect x="600.96" y="529.30" width="10" height="10" fill="#f3812e"/>
<rect x="662.52" y="538.00" width="10" height="10" fill="#f3812e"/>
</g>
<rect x="50.50" y="30.10" width="272.00" height="232.90" fill="none" stroke="#000" stroke-width="1.2"/>
<rect x="408.00" y="29.50" width="272.40" height="232.90" fill="none" stroke="#000" stroke-width="1.2"/>
<rect x="50.50" y="321.20" width="272.00" height="233.10" fill="none" stroke="#000" stroke-width="1.2"/>
<rect x="408.00" y="321.00" width="272.40" height="233.00" fill="none" stroke="#000" stroke-width="1.2"/>
<line x1="50.50" y1="263.00" x2="50.50" y2="268.00" stroke="#000" stroke-width="1.15"/>
<line x1="86.08" y1="263.00" x2="86.08" y2="265.90" stroke="#000" stroke-width="0.9"/>
<line x1="106.90" y1="263.00" x2="106.90" y2="265.90" stroke="#000" stroke-width="0.9"/>
<line x1="121.67" y1="263.00" x2="121.67" y2="265.90" stroke="#000" stroke-width="0.9"/>
<line x1="133.12" y1="263.00" x2="133.12" y2="265.90" stroke="#000" stroke-width="0.9"/>
<line x1="142.48" y1="263.00" x2="142.48" y2="265.90" stroke="#000" stroke-width="0.9"/>
<line x1="150.40" y1="263.00" x2="150.40" y2="265.90" stroke="#000" stroke-width="0.9"/>
<line x1="157.25" y1="263.00" x2="157.25" y2="265.90" stroke="#000" stroke-width="0.9"/>
<line x1="163.30" y1="263.00" x2="163.30" y2="265.90" stroke="#000" stroke-width="0.9"/>
<line x1="168.71" y1="263.00" x2="168.71" y2="268.00" stroke="#000" stroke-width="1.15"/>
<line x1="204.29" y1="263.00" x2="204.29" y2="265.90" stroke="#000" stroke-width="0.9"/>
<line x1="225.11" y1="263.00" x2="225.11" y2="265.90" stroke="#000" stroke-width="0.9"/>
<line x1="239.88" y1="263.00" x2="239.88" y2="265.90" stroke="#000" stroke-width="0.9"/>
<line x1="251.33" y1="263.00" x2="251.33" y2="265.90" stroke="#000" stroke-width="0.9"/>
<line x1="260.69" y1="263.00" x2="260.69" y2="265.90" stroke="#000" stroke-width="0.9"/>
<line x1="268.61" y1="263.00" x2="268.61" y2="265.90" stroke="#000" stroke-width="0.9"/>
<line x1="275.46" y1="263.00" x2="275.46" y2="265.90" stroke="#000" stroke-width="0.9"/>
<line x1="281.51" y1="263.00" x2="281.51" y2="265.90" stroke="#000" stroke-width="0.9"/>
<line x1="286.92" y1="263.00" x2="286.92" y2="268.00" stroke="#000" stroke-width="1.15"/>
<line x1="322.50" y1="263.00" x2="322.50" y2="265.90" stroke="#000" stroke-width="0.9"/>
<line x1="408.00" y1="262.40" x2="408.00" y2="267.40" stroke="#000" stroke-width="1.15"/>
<line x1="443.64" y1="262.40" x2="443.64" y2="265.30" stroke="#000" stroke-width="0.9"/>
<line x1="464.48" y1="262.40" x2="464.48" y2="265.30" stroke="#000" stroke-width="0.9"/>
<line x1="479.27" y1="262.40" x2="479.27" y2="265.30" stroke="#000" stroke-width="0.9"/>
<line x1="490.75" y1="262.40" x2="490.75" y2="265.30" stroke="#000" stroke-width="0.9"/>
<line x1="500.12" y1="262.40" x2="500.12" y2="265.30" stroke="#000" stroke-width="0.9"/>
<line x1="508.04" y1="262.40" x2="508.04" y2="265.30" stroke="#000" stroke-width="0.9"/>
<line x1="514.91" y1="262.40" x2="514.91" y2="265.30" stroke="#000" stroke-width="0.9"/>
<line x1="520.96" y1="262.40" x2="520.96" y2="265.30" stroke="#000" stroke-width="0.9"/>
<line x1="526.38" y1="262.40" x2="526.38" y2="267.40" stroke="#000" stroke-width="1.15"/>
<line x1="562.02" y1="262.40" x2="562.02" y2="265.30" stroke="#000" stroke-width="0.9"/>
<line x1="582.86" y1="262.40" x2="582.86" y2="265.30" stroke="#000" stroke-width="0.9"/>
<line x1="597.65" y1="262.40" x2="597.65" y2="265.30" stroke="#000" stroke-width="0.9"/>
<line x1="609.13" y1="262.40" x2="609.13" y2="265.30" stroke="#000" stroke-width="0.9"/>
<line x1="618.50" y1="262.40" x2="618.50" y2="265.30" stroke="#000" stroke-width="0.9"/>
<line x1="626.43" y1="262.40" x2="626.43" y2="265.30" stroke="#000" stroke-width="0.9"/>
<line x1="633.29" y1="262.40" x2="633.29" y2="265.30" stroke="#000" stroke-width="0.9"/>
<line x1="639.35" y1="262.40" x2="639.35" y2="265.30" stroke="#000" stroke-width="0.9"/>
<line x1="644.76" y1="262.40" x2="644.76" y2="267.40" stroke="#000" stroke-width="1.15"/>
<line x1="680.40" y1="262.40" x2="680.40" y2="265.30" stroke="#000" stroke-width="0.9"/>
<line x1="50.50" y1="554.30" x2="50.50" y2="559.30" stroke="#000" stroke-width="1.15"/>
<line x1="86.08" y1="554.30" x2="86.08" y2="557.20" stroke="#000" stroke-width="0.9"/>
<line x1="106.90" y1="554.30" x2="106.90" y2="557.20" stroke="#000" stroke-width="0.9"/>
<line x1="121.67" y1="554.30" x2="121.67" y2="557.20" stroke="#000" stroke-width="0.9"/>
<line x1="133.12" y1="554.30" x2="133.12" y2="557.20" stroke="#000" stroke-width="0.9"/>
<line x1="142.48" y1="554.30" x2="142.48" y2="557.20" stroke="#000" stroke-width="0.9"/>
<line x1="150.40" y1="554.30" x2="150.40" y2="557.20" stroke="#000" stroke-width="0.9"/>
<line x1="157.25" y1="554.30" x2="157.25" y2="557.20" stroke="#000" stroke-width="0.9"/>
<line x1="163.30" y1="554.30" x2="163.30" y2="557.20" stroke="#000" stroke-width="0.9"/>
<line x1="168.71" y1="554.30" x2="168.71" y2="559.30" stroke="#000" stroke-width="1.15"/>
<line x1="204.29" y1="554.30" x2="204.29" y2="557.20" stroke="#000" stroke-width="0.9"/>
<line x1="225.11" y1="554.30" x2="225.11" y2="557.20" stroke="#000" stroke-width="0.9"/>
<line x1="239.88" y1="554.30" x2="239.88" y2="557.20" stroke="#000" stroke-width="0.9"/>
<line x1="251.33" y1="554.30" x2="251.33" y2="557.20" stroke="#000" stroke-width="0.9"/>
<line x1="260.69" y1="554.30" x2="260.69" y2="557.20" stroke="#000" stroke-width="0.9"/>
<line x1="268.61" y1="554.30" x2="268.61" y2="557.20" stroke="#000" stroke-width="0.9"/>
<line x1="275.46" y1="554.30" x2="275.46" y2="557.20" stroke="#000" stroke-width="0.9"/>
<line x1="281.51" y1="554.30" x2="281.51" y2="557.20" stroke="#000" stroke-width="0.9"/>
<line x1="286.92" y1="554.30" x2="286.92" y2="559.30" stroke="#000" stroke-width="1.15"/>
<line x1="322.50" y1="554.30" x2="322.50" y2="557.20" stroke="#000" stroke-width="0.9"/>
<line x1="50.50" y1="263.00" x2="45.50" y2="263.00" stroke="#000" stroke-width="1.15"/>
<line x1="50.50" y1="204.78" x2="45.50" y2="204.78" stroke="#000" stroke-width="1.15"/>
<line x1="50.50" y1="146.55" x2="45.50" y2="146.55" stroke="#000" stroke-width="1.15"/>
<line x1="50.50" y1="88.33" x2="45.50" y2="88.33" stroke="#000" stroke-width="1.15"/>
<line x1="50.50" y1="30.10" x2="45.50" y2="30.10" stroke="#000" stroke-width="1.15"/>
<line x1="50.50" y1="547.90" x2="45.50" y2="547.90" stroke="#000" stroke-width="1.15"/>
<line x1="50.50" y1="481.37" x2="45.50" y2="481.37" stroke="#000" stroke-width="1.15"/>
<line x1="50.50" y1="414.83" x2="45.50" y2="414.83" stroke="#000" stroke-width="1.15"/>
<line x1="50.50" y1="348.30" x2="45.50" y2="348.30" stroke="#000" stroke-width="1.15"/>
<line x1="408.00" y1="228.40" x2="403.00" y2="228.40" stroke="#000" stroke-width="1.15"/>
<line x1="408.00" y1="175.10" x2="403.00" y2="175.10" stroke="#000" stroke-width="1.15"/>
<line x1="408.00" y1="121.80" x2="403.00" y2="121.80" stroke="#000" stroke-width="1.15"/>
<line x1="408.00" y1="68.50" x2="403.00" y2="68.50" stroke="#000" stroke-width="1.15"/>
<line x1="408.00" y1="256.27" x2="405.10" y2="256.27" stroke="#000" stroke-width="0.9"/>
<line x1="408.00" y1="249.61" x2="405.10" y2="249.61" stroke="#000" stroke-width="0.9"/>
<line x1="408.00" y1="244.44" x2="405.10" y2="244.44" stroke="#000" stroke-width="0.9"/>
<line x1="408.00" y1="240.22" x2="405.10" y2="240.22" stroke="#000" stroke-width="0.9"/>
<line x1="408.00" y1="236.66" x2="405.10" y2="236.66" stroke="#000" stroke-width="0.9"/>
<line x1="408.00" y1="233.57" x2="405.10" y2="233.57" stroke="#000" stroke-width="0.9"/>
<line x1="408.00" y1="230.84" x2="405.10" y2="230.84" stroke="#000" stroke-width="0.9"/>
<line x1="408.00" y1="212.36" x2="405.10" y2="212.36" stroke="#000" stroke-width="0.9"/>
<line x1="408.00" y1="202.97" x2="405.10" y2="202.97" stroke="#000" stroke-width="0.9"/>
<line x1="408.00" y1="196.31" x2="405.10" y2="196.31" stroke="#000" stroke-width="0.9"/>
<line x1="408.00" y1="191.14" x2="405.10" y2="191.14" stroke="#000" stroke-width="0.9"/>
<line x1="408.00" y1="186.92" x2="405.10" y2="186.92" stroke="#000" stroke-width="0.9"/>
<line x1="408.00" y1="183.36" x2="405.10" y2="183.36" stroke="#000" stroke-width="0.9"/>
<line x1="408.00" y1="180.27" x2="405.10" y2="180.27" stroke="#000" stroke-width="0.9"/>
<line x1="408.00" y1="177.54" x2="405.10" y2="177.54" stroke="#000" stroke-width="0.9"/>
<line x1="408.00" y1="159.06" x2="405.10" y2="159.06" stroke="#000" stroke-width="0.9"/>
<line x1="408.00" y1="149.67" x2="405.10" y2="149.67" stroke="#000" stroke-width="0.9"/>
<line x1="408.00" y1="143.01" x2="405.10" y2="143.01" stroke="#000" stroke-width="0.9"/>
<line x1="408.00" y1="137.84" x2="405.10" y2="137.84" stroke="#000" stroke-width="0.9"/>
<line x1="408.00" y1="133.62" x2="405.10" y2="133.62" stroke="#000" stroke-width="0.9"/>
<line x1="408.00" y1="130.06" x2="405.10" y2="130.06" stroke="#000" stroke-width="0.9"/>
<line x1="408.00" y1="126.97" x2="405.10" y2="126.97" stroke="#000" stroke-width="0.9"/>
<line x1="408.00" y1="124.24" x2="405.10" y2="124.24" stroke="#000" stroke-width="0.9"/>
<line x1="408.00" y1="105.76" x2="405.10" y2="105.76" stroke="#000" stroke-width="0.9"/>
<line x1="408.00" y1="96.37" x2="405.10" y2="96.37" stroke="#000" stroke-width="0.9"/>
<line x1="408.00" y1="89.71" x2="405.10" y2="89.71" stroke="#000" stroke-width="0.9"/>
<line x1="408.00" y1="84.54" x2="405.10" y2="84.54" stroke="#000" stroke-width="0.9"/>
<line x1="408.00" y1="80.32" x2="405.10" y2="80.32" stroke="#000" stroke-width="0.9"/>
<line x1="408.00" y1="76.76" x2="405.10" y2="76.76" stroke="#000" stroke-width="0.9"/>
<line x1="408.00" y1="73.67" x2="405.10" y2="73.67" stroke="#000" stroke-width="0.9"/>
<line x1="408.00" y1="70.94" x2="405.10" y2="70.94" stroke="#000" stroke-width="0.9"/>
<line x1="408.00" y1="52.46" x2="405.10" y2="52.46" stroke="#000" stroke-width="0.9"/>
<line x1="408.00" y1="43.07" x2="405.10" y2="43.07" stroke="#000" stroke-width="0.9"/>
<line x1="408.00" y1="36.41" x2="405.10" y2="36.41" stroke="#000" stroke-width="0.9"/>
<line x1="408.00" y1="31.24" x2="405.10" y2="31.24" stroke="#000" stroke-width="0.9"/>
<line x1="408.00" y1="545.40" x2="403.00" y2="545.40" stroke="#000" stroke-width="1.15"/>
<line x1="408.00" y1="500.07" x2="403.00" y2="500.07" stroke="#000" stroke-width="1.15"/>
<line x1="408.00" y1="454.75" x2="403.00" y2="454.75" stroke="#000" stroke-width="1.15"/>
<line x1="408.00" y1="409.42" x2="403.00" y2="409.42" stroke="#000" stroke-width="1.15"/>
<line x1="408.00" y1="364.10" x2="403.00" y2="364.10" stroke="#000" stroke-width="1.15"/>
<line x1="420.37" y1="554.00" x2="420.37" y2="559.00" stroke="#000" stroke-width="1.15"/>
<line x1="482.24" y1="554.00" x2="482.24" y2="559.00" stroke="#000" stroke-width="1.15"/>
<line x1="544.10" y1="554.00" x2="544.10" y2="559.00" stroke="#000" stroke-width="1.15"/>
<line x1="605.96" y1="554.00" x2="605.96" y2="559.00" stroke="#000" stroke-width="1.15"/>
<line x1="667.83" y1="554.00" x2="667.83" y2="559.00" stroke="#000" stroke-width="1.15"/>
<text x="293.66" y="17.80" font-size="21.00" textLength="28.64" lengthAdjust="spacingAndGlyphs" fill="#000">(A)</text>
<text x="651.56" y="17.80" font-size="21.00" textLength="28.64" lengthAdjust="spacingAndGlyphs" fill="#000">(B)</text>
<text x="294.80" y="311.20" font-size="21.00" textLength="28.86" lengthAdjust="spacingAndGlyphs" fill="#000">(C)</text>
<text x="653.53" y="311.40" font-size="21.00" textLength="30.51" lengthAdjust="spacingAndGlyphs" fill="#000">(D)</text>
<text x="131.65" y="305.00" font-size="15.68" textLength="109.66" lengthAdjust="spacingAndGlyphs" fill="#000">frequency (Hz)</text>
<text x="489.25" y="305.00" font-size="15.68" textLength="109.66" lengthAdjust="spacingAndGlyphs" fill="#000">frequency (Hz)</text>
<text x="131.65" y="596.30" font-size="15.68" textLength="109.66" lengthAdjust="spacingAndGlyphs" fill="#000">frequency (Hz)</text>
<text x="457.15" y="595.90" font-size="15.68" textLength="174.18" lengthAdjust="spacingAndGlyphs" fill="#000">Concentration m/m (%)</text>
<text transform="translate(12.00,221.40) rotate(-90)" x="-1.45" y="0" font-size="15.68" textLength="151.88" lengthAdjust="spacingAndGlyphs">Relative permittivity</text>
<text transform="translate(12.20,579.20) rotate(-90)" x="-1.61" y="0" font-size="15.68" textLength="285.96" lengthAdjust="spacingAndGlyphs">Imaginary part of Relative permittivity</text>
<text transform="translate(379.00,538.70) rotate(-90)" x="-1.37" y="0" font-size="15.68" textLength="205.19" lengthAdjust="spacingAndGlyphs">Relaxation frequency (GHz)</text>
<text transform="translate(353.20,219.90) rotate(-90)" x="-0.84" y="0" font-size="15.68" textLength="127.65" lengthAdjust="spacingAndGlyphs">Conductivity (Sm</text>
<text transform="translate(347.70,92.00) rotate(-90)" x="-0.65" y="0" font-size="10.98" textLength="14.87" lengthAdjust="spacingAndGlyphs">−1</text>
<text transform="translate(353.20,77.20) rotate(-90)" x="-0.13" y="0" font-size="15.68" textLength="5.91" lengthAdjust="spacingAndGlyphs">)</text>
<text x="30.46" y="268.70" font-size="15.68" textLength="9.29" lengthAdjust="spacingAndGlyphs" fill="#000">0</text>
<text x="20.96" y="210.47" font-size="15.68" textLength="18.82" lengthAdjust="spacingAndGlyphs" fill="#000">20</text>
<text x="21.05" y="152.25" font-size="15.68" textLength="18.72" lengthAdjust="spacingAndGlyphs" fill="#000">40</text>
<text x="20.92" y="94.03" font-size="15.68" textLength="18.86" lengthAdjust="spacingAndGlyphs" fill="#000">60</text>
<text x="21.01" y="35.80" font-size="15.68" textLength="18.76" lengthAdjust="spacingAndGlyphs" fill="#000">80</text>
<text x="30.46" y="553.60" font-size="15.68" textLength="9.29" lengthAdjust="spacingAndGlyphs" fill="#000">0</text>
<text x="21.10" y="487.07" font-size="15.68" textLength="18.67" lengthAdjust="spacingAndGlyphs" fill="#000">10</text>
<text x="20.96" y="420.53" font-size="15.68" textLength="18.82" lengthAdjust="spacingAndGlyphs" fill="#000">20</text>
<text x="21.21" y="354.00" font-size="15.68" textLength="18.55" lengthAdjust="spacingAndGlyphs" fill="#000">30</text>
<text x="388.16" y="551.10" font-size="15.68" textLength="9.29" lengthAdjust="spacingAndGlyphs" fill="#000">0</text>
<text x="388.61" y="505.77" font-size="15.68" textLength="9.02" lengthAdjust="spacingAndGlyphs" fill="#000">2</text>
<text x="388.05" y="460.45" font-size="15.68" textLength="9.23" lengthAdjust="spacingAndGlyphs" fill="#000">4</text>
<text x="388.00" y="415.12" font-size="15.68" textLength="9.54" lengthAdjust="spacingAndGlyphs" fill="#000">6</text>
<text x="388.19" y="369.80" font-size="15.68" textLength="9.35" lengthAdjust="spacingAndGlyphs" fill="#000">8</text>
<text x="410.88" y="575.60" font-size="15.68" textLength="18.82" lengthAdjust="spacingAndGlyphs" fill="#000">20</text>
<text x="473.02" y="575.60" font-size="15.68" textLength="18.72" lengthAdjust="spacingAndGlyphs" fill="#000">40</text>
<text x="534.59" y="575.60" font-size="15.68" textLength="18.86" lengthAdjust="spacingAndGlyphs" fill="#000">60</text>
<text x="596.56" y="575.60" font-size="15.68" textLength="18.76" lengthAdjust="spacingAndGlyphs" fill="#000">80</text>
<text x="653.50" y="575.60" font-size="15.68" textLength="28.05" lengthAdjust="spacingAndGlyphs" fill="#000">100</text>
<text x="37.20" y="284.70" font-size="15.68" textLength="18.51" lengthAdjust="spacingAndGlyphs" fill="#000">10</text><text x="56.55" y="278.85" font-size="10.98" textLength="6.51" lengthAdjust="spacingAndGlyphs" fill="#000">8</text>
<text x="155.36" y="284.70" font-size="15.68" textLength="18.51" lengthAdjust="spacingAndGlyphs" fill="#000">10</text><text x="174.63" y="278.85" font-size="10.98" textLength="6.73" lengthAdjust="spacingAndGlyphs" fill="#000">9</text>
<text x="270.82" y="284.70" font-size="15.68" textLength="18.51" lengthAdjust="spacingAndGlyphs" fill="#000">10</text><text x="289.83" y="278.85" font-size="10.98" textLength="12.38" lengthAdjust="spacingAndGlyphs" fill="#000">10</text>
<text x="394.70" y="284.70" font-size="15.68" textLength="18.51" lengthAdjust="spacingAndGlyphs" fill="#000">10</text><text x="414.05" y="278.85" font-size="10.98" textLength="6.51" lengthAdjust="spacingAndGlyphs" fill="#000">8</text>
<text x="513.03" y="284.70" font-size="15.68" textLength="18.51" lengthAdjust="spacingAndGlyphs" fill="#000">10</text><text x="532.31" y="278.85" font-size="10.98" textLength="6.73" lengthAdjust="spacingAndGlyphs" fill="#000">9</text>
<text x="628.67" y="284.70" font-size="15.68" textLength="18.51" lengthAdjust="spacingAndGlyphs" fill="#000">10</text><text x="647.68" y="278.85" font-size="10.98" textLength="12.38" lengthAdjust="spacingAndGlyphs" fill="#000">10</text>
<text x="37.20" y="575.60" font-size="15.68" textLength="18.51" lengthAdjust="spacingAndGlyphs" fill="#000">10</text><text x="56.55" y="569.75" font-size="10.98" textLength="6.51" lengthAdjust="spacingAndGlyphs" fill="#000">8</text>
<text x="155.36" y="575.60" font-size="15.68" textLength="18.51" lengthAdjust="spacingAndGlyphs" fill="#000">10</text><text x="174.63" y="569.75" font-size="10.98" textLength="6.73" lengthAdjust="spacingAndGlyphs" fill="#000">9</text>
<text x="270.82" y="575.60" font-size="15.68" textLength="18.51" lengthAdjust="spacingAndGlyphs" fill="#000">10</text><text x="289.83" y="569.75" font-size="10.98" textLength="12.38" lengthAdjust="spacingAndGlyphs" fill="#000">10</text>
<text x="362.55" y="234.10" font-size="15.68" textLength="18.51" lengthAdjust="spacingAndGlyphs" fill="#000">10</text><text x="381.75" y="228.25" font-size="10.98" textLength="14.91" lengthAdjust="spacingAndGlyphs" fill="#000">−2</text>
<text x="363.25" y="180.80" font-size="15.68" textLength="18.51" lengthAdjust="spacingAndGlyphs" fill="#000">10</text><text x="382.48" y="174.95" font-size="10.98" textLength="14.11" lengthAdjust="spacingAndGlyphs" fill="#000">−1</text>
<text x="370.25" y="127.50" font-size="15.68" textLength="18.51" lengthAdjust="spacingAndGlyphs" fill="#000">10</text><text x="389.61" y="121.65" font-size="10.98" textLength="6.87" lengthAdjust="spacingAndGlyphs" fill="#000">0</text>
<text x="371.55" y="74.20" font-size="15.68" textLength="18.51" lengthAdjust="spacingAndGlyphs" fill="#000">10</text><text x="390.60" y="68.35" font-size="10.98" textLength="5.92" lengthAdjust="spacingAndGlyphs" fill="#000">1</text>
<rect x="507.90" y="216.50" width="9.0" height="9.0" fill="#16782f"/>
<path d="M522.70,216.20 L532.30,216.20 L527.50,225.80 Z" fill="#acb722"/>
<path d="M538.70,217.10 L546.10,224.50 M538.70,224.50 L546.10,217.10" stroke="#2a3ea8" stroke-width="1.4" fill="none"/>
<text x="555.51" y="226.40" font-size="15.68" textLength="101.33" lengthAdjust="spacingAndGlyphs" fill="#000">Meaney et al.</text>
<circle cx="527.30" cy="243.20" r="4.5" fill="#e8222b"/>
<text x="555.50" y="248.20" font-size="15.68" textLength="117.54" lengthAdjust="spacingAndGlyphs" fill="#000">Belhrends et al.</text>
<line x1="507.2" y1="340.5" x2="538.8" y2="340.5" stroke="#1f73b6" stroke-width="2.2"/>
<rect x="518.00" y="335.50" width="10" height="10" fill="#1f73b6"/>
<text x="549.39" y="345.80" font-size="15.68" textLength="102.46" lengthAdjust="spacingAndGlyphs" fill="#000">Meaney et al.</text>
<circle cx="523.00" cy="360.50" r="5.9" fill="#e8222b"/>
<text x="549.39" y="365.90" font-size="15.68" textLength="118.57" lengthAdjust="spacingAndGlyphs" fill="#000">Belhrends et al.</text>
<line x1="507.2" y1="383.4" x2="538.8" y2="383.4" stroke="#f3812e" stroke-width="2.2"/>
<rect x="518.00" y="378.40" width="10" height="10" fill="#f3812e"/>
<text x="550.13" y="388.90" font-size="15.68" textLength="69.68" lengthAdjust="spacingAndGlyphs" fill="#000">This work</text>
</svg>
</body></html>
